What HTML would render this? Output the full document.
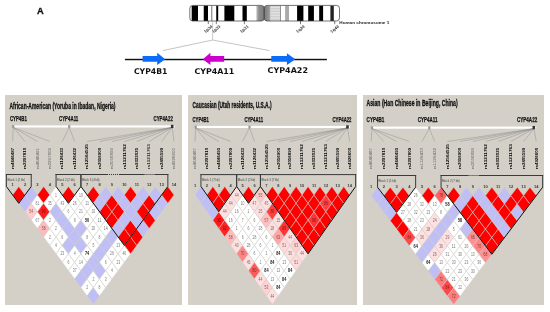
<!DOCTYPE html><html><head><meta charset="utf-8"><style>
html,body{margin:0;padding:0;background:#fff;width:550px;height:312px;overflow:hidden}
svg{display:block}
text{font-family:"Liberation Sans",Arial,sans-serif}
.g{font-family:"DejaVu Sans","Liberation Sans",sans-serif;font-weight:bold}
</style></head><body>
<svg width="550" height="312" viewBox="0 0 550 312">
<text x="36.9" y="14.2" font-size="9.6" font-weight="bold" fill="#111" stroke="#111" stroke-width="0.3" textLength="6.7" lengthAdjust="spacingAndGlyphs">A</text>
<defs><clipPath id="chr"><rect x="189.8" y="5.4" width="74.4" height="15.6" rx="2.8" ry="3.2"/><rect x="264.2" y="5.4" width="75.3" height="15.6" rx="2.8" ry="3.2"/></clipPath>
<linearGradient id="cenp" x1="0" x2="1" y1="0" y2="0"><stop offset="0" stop-color="#bdbdbd"/><stop offset="0.35" stop-color="#8c8c8c"/><stop offset="1" stop-color="#7c7c7c"/></linearGradient><linearGradient id="cenq" x1="0" x2="1" y1="0" y2="0"><stop offset="0" stop-color="#7c7c7c"/><stop offset="0.6" stop-color="#8e8e8e"/><stop offset="1" stop-color="#a8a8a8"/></linearGradient>
<pattern id="hatch" width="4" height="1.6" patternUnits="userSpaceOnUse"><rect width="4" height="1.6" fill="#e4e4e4"/><rect width="4" height="0.6" fill="#c4c4c4"/></pattern></defs>
<g clip-path="url(#chr)"><rect x="189" y="5.4" width="152" height="15.6" fill="#fff"/>
<rect x="270.4" y="5.4" width="10" height="15.6" fill="url(#hatch)"/>
<rect x="191.70" y="5.4" width="6.30" height="15.6" fill="#000"/>
<rect x="203.75" y="5.4" width="4.25" height="15.6" fill="#000"/>
<rect x="211.00" y="5.4" width="1.40" height="15.6" fill="#999"/>
<rect x="216.25" y="5.4" width="1.95" height="15.6" fill="#000"/>
<rect x="224.40" y="5.4" width="9.90" height="15.6" fill="#000"/>
<rect x="242.50" y="5.4" width="4.30" height="15.6" fill="#000"/>
<rect x="256.40" y="5.4" width="7.80" height="15.6" fill="url(#cenp)"/>
<rect x="264.00" y="5.4" width="6.40" height="15.6" fill="url(#cenq)"/>
<rect x="285.10" y="5.4" width="3.90" height="15.6" fill="#aaa"/>
<rect x="297.10" y="5.4" width="6.30" height="15.6" fill="#000"/>
<rect x="308.20" y="5.4" width="5.70" height="15.6" fill="#000"/>
<rect x="319.20" y="5.4" width="3.90" height="15.6" fill="#000"/>
<rect x="330.40" y="5.4" width="3.40" height="15.6" fill="#222"/>
<rect x="280.2" y="5.4" width="0.6" height="15.6" fill="#555"/>
</g>
<rect x="189.8" y="5.4" width="74.4" height="15.6" rx="2.8" ry="3.2" fill="none" stroke="#444" stroke-width="0.75"/><rect x="264.2" y="5.4" width="75.3" height="15.6" rx="2.8" ry="3.2" fill="none" stroke="#444" stroke-width="0.75"/>
<line x1="208.3" y1="21.0" x2="208.3" y2="24.2" stroke="#222" stroke-width="0.6"/>
<text transform="translate(212.9,27.0) rotate(-40)" font-size="4.3" font-weight="bold" fill="#333" text-anchor="end">1p34</text>
<line x1="216.3" y1="21.0" x2="216.3" y2="24.2" stroke="#222" stroke-width="0.6"/>
<text transform="translate(220.9,27.0) rotate(-40)" font-size="4.3" font-weight="bold" fill="#333" text-anchor="end">1p33</text>
<line x1="244.4" y1="21.0" x2="244.4" y2="24.2" stroke="#222" stroke-width="0.6"/>
<text transform="translate(249.0,27.0) rotate(-40)" font-size="4.3" font-weight="bold" fill="#333" text-anchor="end">1p31</text>
<line x1="300.5" y1="21.0" x2="300.5" y2="24.2" stroke="#222" stroke-width="0.6"/>
<text transform="translate(305.1,27.0) rotate(-40)" font-size="4.3" font-weight="bold" fill="#333" text-anchor="end">1q24</text>
<line x1="334.7" y1="21.0" x2="334.7" y2="24.2" stroke="#222" stroke-width="0.6"/>
<text transform="translate(339.3,27.0) rotate(-40)" font-size="4.3" font-weight="bold" fill="#333" text-anchor="end">1q44</text>
<text x="339.3" y="23.8" font-size="4.3" font-weight="bold" fill="#222" textLength="50" lengthAdjust="spacingAndGlyphs">Human chromosome 1</text>
<polyline points="163,50.6 212.6,40 269.5,50.6" fill="none" stroke="#aaa" stroke-width="0.7"/>
<line x1="212.6" y1="21" x2="212.6" y2="40" stroke="#aaa" stroke-width="0.6"/>
<rect x="124.9" y="58.8" width="202" height="1.45" fill="#111"/>
<polygon points="142.6,56 157.2,56 157.2,52.8 165.2,59.2 157.2,65 157.2,61.8 142.6,61.8" fill="#0a6cf7"/>
<polygon points="224.2,56 210.4,56 210.4,52.8 202.8,59.2 210.4,65 210.4,61.8 224.2,61.8" fill="#cc00cc"/>
<polygon points="271.3,56 286.9,56 286.9,53.2 295.3,59.2 286.9,65 286.9,61.8 271.3,61.8" fill="#0a6cf7"/>
<text class="g" x="133.9" y="73.8" font-size="7.9" fill="#111" textLength="33.5" lengthAdjust="spacingAndGlyphs">CYP4B1</text>
<text class="g" x="194.4" y="73.8" font-size="7.9" fill="#111" textLength="40" lengthAdjust="spacingAndGlyphs">CYP4A11</text>
<text class="g" x="267.6" y="72.9" font-size="7.9" fill="#111" textLength="40.4" lengthAdjust="spacingAndGlyphs">CYP4A22</text>
<rect x="5" y="95" width="177" height="210" fill="#d4d0c8"/>
<rect x="5" y="95" width="3" height="210" fill="#d5d1c5"/>
<rect x="177.0" y="95" width="5.0" height="210" fill="#d3cfc4"/>
<text x="9.5" y="108.5" font-size="8.4" font-weight="bold" fill="#111" stroke="#111" stroke-width="0.3" textLength="106.0" lengthAdjust="spacingAndGlyphs">African-American (Yoruba in Ibadan, Nigeria)</text>
<text x="9.9" y="121.20" font-size="7.3" font-weight="bold" fill="#111" stroke="#111" stroke-width="0.25" textLength="16.9" lengthAdjust="spacingAndGlyphs">CYP4B1</text>
<text x="59.0" y="121.20" font-size="7.3" font-weight="bold" fill="#111" stroke="#111" stroke-width="0.25" textLength="19.3" lengthAdjust="spacingAndGlyphs">CYP4A11</text>
<text x="153.5" y="121.20" font-size="7.3" font-weight="bold" fill="#111" stroke="#111" stroke-width="0.25" textLength="19.3" lengthAdjust="spacingAndGlyphs">CYP4A22</text>
<rect x="13.2" y="125.40" width="161.5" height="2.1" fill="#fff"/>
<line x1="13.2" y1="127.40" x2="12.60" y2="141.5" stroke="#8a8a8a" stroke-width="0.45"/>
<line x1="13.2" y1="127.40" x2="25.02" y2="141.5" stroke="#8a8a8a" stroke-width="0.45"/>
<line x1="13.2" y1="127.40" x2="37.44" y2="141.5" stroke="#8a8a8a" stroke-width="0.45"/>
<line x1="13.2" y1="127.40" x2="49.86" y2="141.5" stroke="#8a8a8a" stroke-width="0.45"/>
<line x1="69.2" y1="127.40" x2="62.28" y2="141.5" stroke="#8a8a8a" stroke-width="0.45"/>
<line x1="69.2" y1="127.40" x2="74.70" y2="141.5" stroke="#8a8a8a" stroke-width="0.45"/>
<line x1="172.2" y1="127.40" x2="87.12" y2="141.5" stroke="#8a8a8a" stroke-width="0.45"/>
<line x1="172.2" y1="127.40" x2="99.54" y2="141.5" stroke="#8a8a8a" stroke-width="0.45"/>
<line x1="172.2" y1="127.40" x2="111.96" y2="141.5" stroke="#8a8a8a" stroke-width="0.45"/>
<line x1="172.2" y1="127.40" x2="124.38" y2="141.5" stroke="#8a8a8a" stroke-width="0.45"/>
<line x1="172.2" y1="127.40" x2="136.80" y2="141.5" stroke="#8a8a8a" stroke-width="0.45"/>
<line x1="172.2" y1="127.40" x2="149.22" y2="141.5" stroke="#8a8a8a" stroke-width="0.45"/>
<line x1="172.2" y1="127.40" x2="161.64" y2="141.5" stroke="#8a8a8a" stroke-width="0.45"/>
<line x1="172.2" y1="127.40" x2="174.06" y2="141.5" stroke="#8a8a8a" stroke-width="0.45"/>
<rect x="12.1" y="125.10" width="2.2" height="2.8" fill="#999"/>
<rect x="68.1" y="125.10" width="2.2" height="2.8" fill="#999"/>
<rect x="170.9" y="124.80" width="2.6" height="3.2" fill="#333"/>
<text transform="translate(13.80,169.2) rotate(-90)" font-size="3.0" font-weight="bold" fill="#000" textLength="21.3" lengthAdjust="spacingAndGlyphs">rs4646487</text>
<text transform="translate(26.22,169.2) rotate(-90)" font-size="3.0" font-weight="bold" fill="#000" textLength="21.3" lengthAdjust="spacingAndGlyphs">rs2297810</text>
<text transform="translate(38.64,169.2) rotate(-90)" font-size="3.0" font-weight="normal" fill="#666" textLength="21.3" lengthAdjust="spacingAndGlyphs">rs4646491</text>
<text transform="translate(51.06,169.2) rotate(-90)" font-size="3.0" font-weight="normal" fill="#666" textLength="21.3" lengthAdjust="spacingAndGlyphs">rs2297809</text>
<text transform="translate(63.48,169.2) rotate(-90)" font-size="3.0" font-weight="bold" fill="#000" textLength="21.3" lengthAdjust="spacingAndGlyphs">rs1126433</text>
<text transform="translate(75.90,169.2) rotate(-90)" font-size="3.0" font-weight="bold" fill="#000" textLength="21.3" lengthAdjust="spacingAndGlyphs">rs1126432</text>
<text transform="translate(88.32,169.2) rotate(-90)" font-size="3.0" font-weight="bold" fill="#000" textLength="25.0" lengthAdjust="spacingAndGlyphs">rs12564525</text>
<text transform="translate(100.74,169.2) rotate(-90)" font-size="3.0" font-weight="bold" fill="#000" textLength="21.3" lengthAdjust="spacingAndGlyphs">rs2056900</text>
<text transform="translate(113.16,169.2) rotate(-90)" font-size="3.0" font-weight="normal" fill="#666" textLength="21.3" lengthAdjust="spacingAndGlyphs">rs2056899</text>
<text transform="translate(125.58,169.2) rotate(-90)" font-size="3.0" font-weight="bold" fill="#000" textLength="25.0" lengthAdjust="spacingAndGlyphs">rs11211762</text>
<text transform="translate(138.00,169.2) rotate(-90)" font-size="3.0" font-weight="bold" fill="#000" textLength="21.3" lengthAdjust="spacingAndGlyphs">rs9333025</text>
<text transform="translate(150.42,169.2) rotate(-90)" font-size="3.0" font-weight="bold" fill="#333" textLength="25.0" lengthAdjust="spacingAndGlyphs">rs11211763</text>
<text transform="translate(162.84,169.2) rotate(-90)" font-size="3.0" font-weight="bold" fill="#000" textLength="21.3" lengthAdjust="spacingAndGlyphs">rs2405599</text>
<text transform="translate(175.26,169.2) rotate(-90)" font-size="3.0" font-weight="normal" fill="#666" textLength="21.3" lengthAdjust="spacingAndGlyphs">rs4926600</text>
<text x="12.60" y="186.40" font-size="4.0" font-weight="bold" fill="#383838" text-anchor="middle">1</text>
<text x="25.02" y="186.40" font-size="4.0" font-weight="bold" fill="#383838" text-anchor="middle">2</text>
<text x="37.44" y="186.40" font-size="4.0" font-weight="bold" fill="#383838" text-anchor="middle">3</text>
<text x="49.86" y="186.40" font-size="4.0" font-weight="bold" fill="#383838" text-anchor="middle">4</text>
<text x="62.28" y="186.40" font-size="4.0" font-weight="bold" fill="#383838" text-anchor="middle">5</text>
<text x="74.70" y="186.40" font-size="4.0" font-weight="bold" fill="#383838" text-anchor="middle">6</text>
<text x="87.12" y="186.40" font-size="4.0" font-weight="bold" fill="#383838" text-anchor="middle">7</text>
<text x="99.54" y="186.40" font-size="4.0" font-weight="bold" fill="#383838" text-anchor="middle">8</text>
<text x="111.96" y="186.40" font-size="4.0" font-weight="bold" fill="#383838" text-anchor="middle">9</text>
<text x="124.38" y="186.40" font-size="4.0" font-weight="bold" fill="#383838" text-anchor="middle">10</text>
<text x="136.80" y="186.40" font-size="4.0" font-weight="bold" fill="#383838" text-anchor="middle">11</text>
<text x="149.22" y="186.40" font-size="4.0" font-weight="bold" fill="#383838" text-anchor="middle">12</text>
<text x="161.64" y="186.40" font-size="4.0" font-weight="bold" fill="#383838" text-anchor="middle">13</text>
<text x="174.06" y="186.40" font-size="4.0" font-weight="bold" fill="#383838" text-anchor="middle">14</text>
<polygon points="18.81,186.48 25.02,194.90 18.81,203.32 12.60,194.90" fill="#ff0000" stroke="#cfcfcb" stroke-width="0.55"/>
<polygon points="25.02,194.90 31.23,203.32 25.02,211.74 18.81,203.32" fill="#bfbff6" stroke="#cfcfcb" stroke-width="0.55"/>
<polygon points="31.23,203.32 37.44,211.74 31.23,220.16 25.02,211.74" fill="#ffcdcd" stroke="#cfcfcb" stroke-width="0.55"/>
<text x="31.23" y="213.39" font-size="4.5" fill="#7a7a7a" text-anchor="middle" textLength="3.80" lengthAdjust="spacingAndGlyphs" style="mix-blend-mode:multiply">54</text>
<polygon points="37.44,211.74 43.65,220.16 37.44,228.58 31.23,220.16" fill="#ffffff" stroke="#cfcfcb" stroke-width="0.55"/>
<text x="37.44" y="221.81" font-size="4.5" fill="#7a7a7a" text-anchor="middle" textLength="3.80" lengthAdjust="spacingAndGlyphs" style="mix-blend-mode:multiply">67</text>
<polygon points="43.65,220.16 49.86,228.58 43.65,237.00 37.44,228.58" fill="#ffbbbb" stroke="#cfcfcb" stroke-width="0.55"/>
<text x="43.65" y="230.23" font-size="4.5" fill="#7a7a7a" text-anchor="middle" textLength="3.80" lengthAdjust="spacingAndGlyphs" style="mix-blend-mode:multiply">58</text>
<polygon points="49.86,228.58 56.07,237.00 49.86,245.42 43.65,237.00" fill="#ffffff" stroke="#cfcfcb" stroke-width="0.55"/>
<text x="49.86" y="238.65" font-size="4.5" fill="#7a7a7a" text-anchor="middle" textLength="1.90" lengthAdjust="spacingAndGlyphs" style="mix-blend-mode:multiply">2</text>
<polygon points="56.07,237.00 62.28,245.42 56.07,253.84 49.86,245.42" fill="#ffffff" stroke="#cfcfcb" stroke-width="0.55"/>
<text x="56.07" y="247.07" font-size="4.5" fill="#7a7a7a" text-anchor="middle" textLength="1.90" lengthAdjust="spacingAndGlyphs" style="mix-blend-mode:multiply">4</text>
<polygon points="62.28,245.42 68.49,253.84 62.28,262.26 56.07,253.84" fill="#ffffff" stroke="#cfcfcb" stroke-width="0.55"/>
<text x="62.28" y="255.49" font-size="4.5" fill="#7a7a7a" text-anchor="middle" textLength="3.80" lengthAdjust="spacingAndGlyphs" style="mix-blend-mode:multiply">23</text>
<polygon points="68.49,253.84 74.70,262.26 68.49,270.68 62.28,262.26" fill="#ffffff" stroke="#cfcfcb" stroke-width="0.55"/>
<text x="68.49" y="263.91" font-size="4.5" fill="#7a7a7a" text-anchor="middle" textLength="1.90" lengthAdjust="spacingAndGlyphs" style="mix-blend-mode:multiply">6</text>
<polygon points="74.70,262.26 80.91,270.68 74.70,279.10 68.49,270.68" fill="#ffffff" stroke="#cfcfcb" stroke-width="0.55"/>
<text x="74.70" y="272.33" font-size="4.5" fill="#7a7a7a" text-anchor="middle" textLength="3.80" lengthAdjust="spacingAndGlyphs" style="mix-blend-mode:multiply">37</text>
<polygon points="80.91,270.68 87.12,279.10 80.91,287.52 74.70,279.10" fill="#bfbff6" stroke="#cfcfcb" stroke-width="0.55"/>
<polygon points="87.12,279.10 93.33,287.52 87.12,295.94 80.91,287.52" fill="#ffffff" stroke="#cfcfcb" stroke-width="0.55"/>
<text x="87.12" y="289.17" font-size="4.5" fill="#7a7a7a" text-anchor="middle" textLength="1.90" lengthAdjust="spacingAndGlyphs" style="mix-blend-mode:multiply">2</text>
<polygon points="93.33,287.52 99.54,295.94 93.33,304.36 87.12,295.94" fill="#bfbff6" stroke="#cfcfcb" stroke-width="0.55"/>
<polygon points="31.23,186.48 37.44,194.90 31.23,203.32 25.02,194.90" fill="#bfbff6" stroke="#cfcfcb" stroke-width="0.55"/>
<polygon points="37.44,194.90 43.65,203.32 37.44,211.74 31.23,203.32" fill="#ffffff" stroke="#cfcfcb" stroke-width="0.55"/>
<text x="37.44" y="204.97" font-size="4.5" fill="#7a7a7a" text-anchor="middle" textLength="3.80" lengthAdjust="spacingAndGlyphs" style="mix-blend-mode:multiply">81</text>
<polygon points="43.65,203.32 49.86,211.74 43.65,220.16 37.44,211.74" fill="#ff1c1c" stroke="#cfcfcb" stroke-width="0.55"/>
<text x="43.65" y="213.39" font-size="4.5" fill="#7a7a7a" text-anchor="middle" textLength="3.80" lengthAdjust="spacingAndGlyphs" style="mix-blend-mode:multiply">90</text>
<polygon points="49.86,211.74 56.07,220.16 49.86,228.58 43.65,220.16" fill="#ffffff" stroke="#cfcfcb" stroke-width="0.55"/>
<text x="49.86" y="221.81" font-size="4.5" fill="#7a7a7a" text-anchor="middle" textLength="1.90" lengthAdjust="spacingAndGlyphs" style="mix-blend-mode:multiply">2</text>
<polygon points="56.07,220.16 62.28,228.58 56.07,237.00 49.86,228.58" fill="#ffffff" stroke="#cfcfcb" stroke-width="0.55"/>
<text x="56.07" y="230.23" font-size="4.5" fill="#7a7a7a" text-anchor="middle" textLength="1.90" lengthAdjust="spacingAndGlyphs" style="mix-blend-mode:multiply">2</text>
<polygon points="62.28,228.58 68.49,237.00 62.28,245.42 56.07,237.00" fill="#ffffff" stroke="#cfcfcb" stroke-width="0.55"/>
<text x="62.28" y="238.65" font-size="4.5" fill="#7a7a7a" text-anchor="middle" textLength="1.90" lengthAdjust="spacingAndGlyphs" style="mix-blend-mode:multiply">6</text>
<polygon points="68.49,237.00 74.70,245.42 68.49,253.84 62.28,245.42" fill="#bfbff6" stroke="#cfcfcb" stroke-width="0.55"/>
<polygon points="74.70,245.42 80.91,253.84 74.70,262.26 68.49,253.84" fill="#ffffff" stroke="#cfcfcb" stroke-width="0.55"/>
<text x="74.70" y="255.49" font-size="4.5" fill="#7a7a7a" text-anchor="middle" textLength="1.90" lengthAdjust="spacingAndGlyphs" style="mix-blend-mode:multiply">4</text>
<polygon points="80.91,253.84 87.12,262.26 80.91,270.68 74.70,262.26" fill="#ffffff" stroke="#cfcfcb" stroke-width="0.55"/>
<text x="80.91" y="263.91" font-size="4.5" fill="#7a7a7a" text-anchor="middle" textLength="3.80" lengthAdjust="spacingAndGlyphs" style="mix-blend-mode:multiply">14</text>
<polygon points="87.12,262.26 93.33,270.68 87.12,279.10 80.91,270.68" fill="#bfbff6" stroke="#cfcfcb" stroke-width="0.55"/>
<polygon points="93.33,270.68 99.54,279.10 93.33,287.52 87.12,279.10" fill="#ffffff" stroke="#cfcfcb" stroke-width="0.55"/>
<text x="93.33" y="280.75" font-size="4.5" fill="#7a7a7a" text-anchor="middle" textLength="1.90" lengthAdjust="spacingAndGlyphs" style="mix-blend-mode:multiply">2</text>
<polygon points="99.54,279.10 105.75,287.52 99.54,295.94 93.33,287.52" fill="#ffffff" stroke="#cfcfcb" stroke-width="0.55"/>
<text x="99.54" y="289.17" font-size="4.5" fill="#7a7a7a" text-anchor="middle" textLength="1.90" lengthAdjust="spacingAndGlyphs" style="mix-blend-mode:multiply">8</text>
<polygon points="43.65,186.48 49.86,194.90 43.65,203.32 37.44,194.90" fill="#ff0000" stroke="#cfcfcb" stroke-width="0.55"/>
<polygon points="49.86,194.90 56.07,203.32 49.86,211.74 43.65,203.32" fill="#ffffff" stroke="#cfcfcb" stroke-width="0.55"/>
<text x="49.86" y="204.97" font-size="4.5" fill="#7a7a7a" text-anchor="middle" textLength="3.80" lengthAdjust="spacingAndGlyphs" style="mix-blend-mode:multiply">35</text>
<polygon points="56.07,203.32 62.28,211.74 56.07,220.16 49.86,211.74" fill="#bfbff6" stroke="#cfcfcb" stroke-width="0.55"/>
<polygon points="62.28,211.74 68.49,220.16 62.28,228.58 56.07,220.16" fill="#bfbff6" stroke="#cfcfcb" stroke-width="0.55"/>
<polygon points="68.49,220.16 74.70,228.58 68.49,237.00 62.28,228.58" fill="#bfbff6" stroke="#cfcfcb" stroke-width="0.55"/>
<polygon points="74.70,228.58 80.91,237.00 74.70,245.42 68.49,237.00" fill="#bfbff6" stroke="#cfcfcb" stroke-width="0.55"/>
<polygon points="80.91,237.00 87.12,245.42 80.91,253.84 74.70,245.42" fill="#bfbff6" stroke="#cfcfcb" stroke-width="0.55"/>
<polygon points="87.12,245.42 93.33,253.84 87.12,262.26 80.91,253.84" fill="#ffffff" stroke="#cfcfcb" stroke-width="0.55"/>
<text x="87.12" y="255.49" font-size="4.6" font-weight="bold" fill="#222" text-anchor="middle" textLength="4.30" lengthAdjust="spacingAndGlyphs">74</text>
<polygon points="93.33,253.84 99.54,262.26 93.33,270.68 87.12,262.26" fill="#bfbff6" stroke="#cfcfcb" stroke-width="0.55"/>
<polygon points="99.54,262.26 105.75,270.68 99.54,279.10 93.33,270.68" fill="#bfbff6" stroke="#cfcfcb" stroke-width="0.55"/>
<polygon points="105.75,270.68 111.96,279.10 105.75,287.52 99.54,279.10" fill="#ffffff" stroke="#cfcfcb" stroke-width="0.55"/>
<text x="105.75" y="280.75" font-size="4.5" fill="#7a7a7a" text-anchor="middle" textLength="1.90" lengthAdjust="spacingAndGlyphs" style="mix-blend-mode:multiply">3</text>
<polygon points="56.07,186.48 62.28,194.90 56.07,203.32 49.86,194.90" fill="#ffffff" stroke="#cfcfcb" stroke-width="0.55"/>
<text x="56.07" y="196.55" font-size="4.5" fill="#7a7a7a" text-anchor="middle" textLength="1.90" lengthAdjust="spacingAndGlyphs" style="mix-blend-mode:multiply">1</text>
<polygon points="62.28,194.90 68.49,203.32 62.28,211.74 56.07,203.32" fill="#ffffff" stroke="#cfcfcb" stroke-width="0.55"/>
<text x="62.28" y="204.97" font-size="4.5" fill="#7a7a7a" text-anchor="middle" textLength="3.80" lengthAdjust="spacingAndGlyphs" style="mix-blend-mode:multiply">43</text>
<polygon points="68.49,203.32 74.70,211.74 68.49,220.16 62.28,211.74" fill="#ffffff" stroke="#cfcfcb" stroke-width="0.55"/>
<text x="68.49" y="213.39" font-size="4.5" fill="#7a7a7a" text-anchor="middle" textLength="1.90" lengthAdjust="spacingAndGlyphs" style="mix-blend-mode:multiply">6</text>
<polygon points="74.70,211.74 80.91,220.16 74.70,228.58 68.49,220.16" fill="#ffffff" stroke="#cfcfcb" stroke-width="0.55"/>
<text x="74.70" y="221.81" font-size="4.5" fill="#7a7a7a" text-anchor="middle" textLength="1.90" lengthAdjust="spacingAndGlyphs" style="mix-blend-mode:multiply">8</text>
<polygon points="80.91,220.16 87.12,228.58 80.91,237.00 74.70,228.58" fill="#bfbff6" stroke="#cfcfcb" stroke-width="0.55"/>
<polygon points="87.12,228.58 93.33,237.00 87.12,245.42 80.91,237.00" fill="#ffffff" stroke="#cfcfcb" stroke-width="0.55"/>
<text x="87.12" y="238.65" font-size="4.5" fill="#7a7a7a" text-anchor="middle" textLength="1.90" lengthAdjust="spacingAndGlyphs" style="mix-blend-mode:multiply">8</text>
<polygon points="93.33,237.00 99.54,245.42 93.33,253.84 87.12,245.42" fill="#ffffff" stroke="#cfcfcb" stroke-width="0.55"/>
<text x="93.33" y="247.07" font-size="4.5" fill="#7a7a7a" text-anchor="middle" textLength="1.90" lengthAdjust="spacingAndGlyphs" style="mix-blend-mode:multiply">5</text>
<polygon points="99.54,245.42 105.75,253.84 99.54,262.26 93.33,253.84" fill="#bfbff6" stroke="#cfcfcb" stroke-width="0.55"/>
<polygon points="105.75,253.84 111.96,262.26 105.75,270.68 99.54,262.26" fill="#ffffff" stroke="#cfcfcb" stroke-width="0.55"/>
<text x="105.75" y="263.91" font-size="4.5" fill="#7a7a7a" text-anchor="middle" textLength="1.90" lengthAdjust="spacingAndGlyphs" style="mix-blend-mode:multiply">6</text>
<polygon points="111.96,262.26 118.17,270.68 111.96,279.10 105.75,270.68" fill="#ffffff" stroke="#cfcfcb" stroke-width="0.55"/>
<text x="111.96" y="272.33" font-size="4.5" fill="#7a7a7a" text-anchor="middle" textLength="1.90" lengthAdjust="spacingAndGlyphs" style="mix-blend-mode:multiply">4</text>
<polygon points="68.49,186.48 74.70,194.90 68.49,203.32 62.28,194.90" fill="#ff0000" stroke="#cfcfcb" stroke-width="0.55"/>
<polygon points="74.70,194.90 80.91,203.32 74.70,211.74 68.49,203.32" fill="#ffffff" stroke="#cfcfcb" stroke-width="0.55"/>
<text x="74.70" y="204.97" font-size="4.5" fill="#7a7a7a" text-anchor="middle" textLength="3.80" lengthAdjust="spacingAndGlyphs" style="mix-blend-mode:multiply">26</text>
<polygon points="80.91,203.32 87.12,211.74 80.91,220.16 74.70,211.74" fill="#ffffff" stroke="#cfcfcb" stroke-width="0.55"/>
<text x="80.91" y="213.39" font-size="4.5" fill="#7a7a7a" text-anchor="middle" textLength="3.80" lengthAdjust="spacingAndGlyphs" style="mix-blend-mode:multiply">21</text>
<polygon points="87.12,211.74 93.33,220.16 87.12,228.58 80.91,220.16" fill="#ffffff" stroke="#cfcfcb" stroke-width="0.55"/>
<text x="87.12" y="221.81" font-size="4.6" font-weight="bold" fill="#222" text-anchor="middle" textLength="4.30" lengthAdjust="spacingAndGlyphs">50</text>
<polygon points="93.33,220.16 99.54,228.58 93.33,237.00 87.12,228.58" fill="#ffffff" stroke="#cfcfcb" stroke-width="0.55"/>
<text x="93.33" y="230.23" font-size="4.5" fill="#7a7a7a" text-anchor="middle" textLength="3.80" lengthAdjust="spacingAndGlyphs" style="mix-blend-mode:multiply">20</text>
<polygon points="99.54,228.58 105.75,237.00 99.54,245.42 93.33,237.00" fill="#ffffff" stroke="#cfcfcb" stroke-width="0.55"/>
<text x="99.54" y="238.65" font-size="4.5" fill="#7a7a7a" text-anchor="middle" textLength="1.90" lengthAdjust="spacingAndGlyphs" style="mix-blend-mode:multiply">8</text>
<polygon points="105.75,237.00 111.96,245.42 105.75,253.84 99.54,245.42" fill="#bfbff6" stroke="#cfcfcb" stroke-width="0.55"/>
<polygon points="111.96,245.42 118.17,253.84 111.96,262.26 105.75,253.84" fill="#ffffff" stroke="#cfcfcb" stroke-width="0.55"/>
<text x="111.96" y="255.49" font-size="4.5" fill="#7a7a7a" text-anchor="middle" textLength="3.80" lengthAdjust="spacingAndGlyphs" style="mix-blend-mode:multiply">26</text>
<polygon points="118.17,253.84 124.38,262.26 118.17,270.68 111.96,262.26" fill="#ffffff" stroke="#cfcfcb" stroke-width="0.55"/>
<text x="118.17" y="263.91" font-size="4.5" fill="#7a7a7a" text-anchor="middle" textLength="3.80" lengthAdjust="spacingAndGlyphs" style="mix-blend-mode:multiply">13</text>
<polygon points="80.91,186.48 87.12,194.90 80.91,203.32 74.70,194.90" fill="#ffffff" stroke="#cfcfcb" stroke-width="0.55"/>
<text x="80.91" y="196.55" font-size="4.5" fill="#7a7a7a" text-anchor="middle" textLength="3.80" lengthAdjust="spacingAndGlyphs" style="mix-blend-mode:multiply">10</text>
<polygon points="87.12,194.90 93.33,203.32 87.12,211.74 80.91,203.32" fill="#ffffff" stroke="#cfcfcb" stroke-width="0.55"/>
<text x="87.12" y="204.97" font-size="4.5" fill="#7a7a7a" text-anchor="middle" textLength="3.80" lengthAdjust="spacingAndGlyphs" style="mix-blend-mode:multiply">11</text>
<polygon points="93.33,203.32 99.54,211.74 93.33,220.16 87.12,211.74" fill="#ffffff" stroke="#cfcfcb" stroke-width="0.55"/>
<text x="93.33" y="213.39" font-size="4.5" fill="#7a7a7a" text-anchor="middle" textLength="3.80" lengthAdjust="spacingAndGlyphs" style="mix-blend-mode:multiply">10</text>
<polygon points="99.54,211.74 105.75,220.16 99.54,228.58 93.33,220.16" fill="#ffffff" stroke="#cfcfcb" stroke-width="0.55"/>
<text x="99.54" y="221.81" font-size="4.5" fill="#7a7a7a" text-anchor="middle" textLength="3.80" lengthAdjust="spacingAndGlyphs" style="mix-blend-mode:multiply">11</text>
<polygon points="105.75,220.16 111.96,228.58 105.75,237.00 99.54,228.58" fill="#ffffff" stroke="#cfcfcb" stroke-width="0.55"/>
<text x="105.75" y="230.23" font-size="4.5" fill="#7a7a7a" text-anchor="middle" textLength="3.80" lengthAdjust="spacingAndGlyphs" style="mix-blend-mode:multiply">14</text>
<polygon points="111.96,228.58 118.17,237.00 111.96,245.42 105.75,237.00" fill="#bfbff6" stroke="#cfcfcb" stroke-width="0.55"/>
<polygon points="118.17,237.00 124.38,245.42 118.17,253.84 111.96,245.42" fill="#ffffff" stroke="#cfcfcb" stroke-width="0.55"/>
<text x="118.17" y="247.07" font-size="4.5" fill="#7a7a7a" text-anchor="middle" textLength="3.80" lengthAdjust="spacingAndGlyphs" style="mix-blend-mode:multiply">13</text>
<polygon points="124.38,245.42 130.59,253.84 124.38,262.26 118.17,253.84" fill="#ffffff" stroke="#cfcfcb" stroke-width="0.55"/>
<text x="124.38" y="255.49" font-size="4.5" fill="#7a7a7a" text-anchor="middle" textLength="3.80" lengthAdjust="spacingAndGlyphs" style="mix-blend-mode:multiply">46</text>
<polygon points="93.33,186.48 99.54,194.90 93.33,203.32 87.12,194.90" fill="#ff0000" stroke="#cfcfcb" stroke-width="0.55"/>
<polygon points="99.54,194.90 105.75,203.32 99.54,211.74 93.33,203.32" fill="#bfbff6" stroke="#cfcfcb" stroke-width="0.55"/>
<polygon points="105.75,203.32 111.96,211.74 105.75,220.16 99.54,211.74" fill="#ff0000" stroke="#cfcfcb" stroke-width="0.55"/>
<polygon points="111.96,211.74 118.17,220.16 111.96,228.58 105.75,220.16" fill="#ff0000" stroke="#cfcfcb" stroke-width="0.55"/>
<polygon points="118.17,220.16 124.38,228.58 118.17,237.00 111.96,228.58" fill="#bfbff6" stroke="#cfcfcb" stroke-width="0.55"/>
<polygon points="124.38,228.58 130.59,237.00 124.38,245.42 118.17,237.00" fill="#ff0000" stroke="#cfcfcb" stroke-width="0.55"/>
<polygon points="130.59,237.00 136.80,245.42 130.59,253.84 124.38,245.42" fill="#ff0000" stroke="#cfcfcb" stroke-width="0.55"/>
<polygon points="105.75,186.48 111.96,194.90 105.75,203.32 99.54,194.90" fill="#bfbff6" stroke="#cfcfcb" stroke-width="0.55"/>
<polygon points="111.96,194.90 118.17,203.32 111.96,211.74 105.75,203.32" fill="#ff0000" stroke="#cfcfcb" stroke-width="0.55"/>
<polygon points="118.17,203.32 124.38,211.74 118.17,220.16 111.96,211.74" fill="#ff0000" stroke="#cfcfcb" stroke-width="0.55"/>
<polygon points="124.38,211.74 130.59,220.16 124.38,228.58 118.17,220.16" fill="#bfbff6" stroke="#cfcfcb" stroke-width="0.55"/>
<polygon points="130.59,220.16 136.80,228.58 130.59,237.00 124.38,228.58" fill="#ff0000" stroke="#cfcfcb" stroke-width="0.55"/>
<polygon points="136.80,228.58 143.01,237.00 136.80,245.42 130.59,237.00" fill="#ff0000" stroke="#cfcfcb" stroke-width="0.55"/>
<polygon points="118.17,186.48 124.38,194.90 118.17,203.32 111.96,194.90" fill="#bfbff6" stroke="#cfcfcb" stroke-width="0.55"/>
<polygon points="124.38,194.90 130.59,203.32 124.38,211.74 118.17,203.32" fill="#bfbff6" stroke="#cfcfcb" stroke-width="0.55"/>
<polygon points="130.59,203.32 136.80,211.74 130.59,220.16 124.38,211.74" fill="#bfbff6" stroke="#cfcfcb" stroke-width="0.55"/>
<polygon points="136.80,211.74 143.01,220.16 136.80,228.58 130.59,220.16" fill="#bfbff6" stroke="#cfcfcb" stroke-width="0.55"/>
<polygon points="143.01,220.16 149.22,228.58 143.01,237.00 136.80,228.58" fill="#bfbff6" stroke="#cfcfcb" stroke-width="0.55"/>
<polygon points="130.59,186.48 136.80,194.90 130.59,203.32 124.38,194.90" fill="#ff0000" stroke="#cfcfcb" stroke-width="0.55"/>
<polygon points="136.80,194.90 143.01,203.32 136.80,211.74 130.59,203.32" fill="#bfbff6" stroke="#cfcfcb" stroke-width="0.55"/>
<polygon points="143.01,203.32 149.22,211.74 143.01,220.16 136.80,211.74" fill="#ff0000" stroke="#cfcfcb" stroke-width="0.55"/>
<polygon points="149.22,211.74 155.43,220.16 149.22,228.58 143.01,220.16" fill="#ff0000" stroke="#cfcfcb" stroke-width="0.55"/>
<polygon points="143.01,186.48 149.22,194.90 143.01,203.32 136.80,194.90" fill="#bfbff6" stroke="#cfcfcb" stroke-width="0.55"/>
<polygon points="149.22,194.90 155.43,203.32 149.22,211.74 143.01,203.32" fill="#ff0000" stroke="#cfcfcb" stroke-width="0.55"/>
<polygon points="155.43,203.32 161.64,211.74 155.43,220.16 149.22,211.74" fill="#bfbff6" stroke="#cfcfcb" stroke-width="0.55"/>
<polygon points="155.43,186.48 161.64,194.90 155.43,203.32 149.22,194.90" fill="#bfbff6" stroke="#cfcfcb" stroke-width="0.55"/>
<polygon points="161.64,194.90 167.85,203.32 161.64,211.74 155.43,203.32" fill="#bfbff6" stroke="#cfcfcb" stroke-width="0.55"/>
<polygon points="167.85,186.48 174.06,194.90 167.85,203.32 161.64,194.90" fill="#ff0000" stroke="#cfcfcb" stroke-width="0.55"/>
<polyline points="6.39,186.48 6.39,174.00" fill="none" stroke="#3a3a3a" stroke-width="1.0"/>
<polyline points="31.23,186.48 31.23,174.00" fill="none" stroke="#3a3a3a" stroke-width="1.0"/>
<line x1="5.89" y1="174.50" x2="31.73" y2="174.50" stroke="#3a3a3a" stroke-width="1.0"/>
<polyline points="31.23,186.48 18.81,203.32 6.39,186.48" fill="none" stroke="#111" stroke-width="1.0" stroke-linejoin="miter"/>
<text x="7.39" y="180.50" font-size="2.9" fill="#444">Block 1 (2 kb)</text>
<polyline points="56.07,186.48 56.07,174.00" fill="none" stroke="#3a3a3a" stroke-width="1.0"/>
<polyline points="80.91,186.48 80.91,174.00" fill="none" stroke="#3a3a3a" stroke-width="1.0"/>
<line x1="55.57" y1="174.50" x2="81.41" y2="174.50" stroke="#3a3a3a" stroke-width="1.0"/>
<polyline points="80.91,186.48 68.49,203.32 56.07,186.48" fill="none" stroke="#111" stroke-width="1.0" stroke-linejoin="miter"/>
<text x="57.07" y="180.50" font-size="2.9" fill="#444">Block 2 (2 kb)</text>
<polyline points="80.91,186.48 80.91,174.00" fill="none" stroke="#3a3a3a" stroke-width="1.0"/>
<polyline points="167.85,186.48 167.85,174.00" fill="none" stroke="#3a3a3a" stroke-width="1.0"/>
<line x1="80.41" y1="174.50" x2="107.00" y2="174.50" stroke="#3a3a3a" stroke-width="1.0"/>
<line x1="107.00" y1="174.50" x2="119.00" y2="174.50" stroke="#3a3a3a" stroke-width="1.0" stroke-dasharray="1.1,0.9"/>
<line x1="119.00" y1="174.50" x2="144.40" y2="174.50" stroke="#3a3a3a" stroke-width="1.0"/>
<line x1="144.40" y1="174.50" x2="154.40" y2="174.50" stroke="#3a3a3a" stroke-width="1.0" stroke-dasharray="1.1,0.9"/>
<line x1="154.40" y1="174.50" x2="168.35" y2="174.50" stroke="#3a3a3a" stroke-width="1.0"/>
<polyline points="167.85,186.48 124.38,245.42 80.91,186.48" fill="none" stroke="#111" stroke-width="1.0" stroke-linejoin="miter"/>
<text x="81.91" y="180.50" font-size="2.9" fill="#444">Block 3 (4 kb)</text>
<rect x="188" y="95" width="169" height="210" fill="#d4d0c8"/>
<rect x="188" y="95" width="3" height="210" fill="#d5d1c5"/>
<rect x="352.0" y="95" width="5.0" height="210" fill="#d3cfc4"/>
<text x="192.5" y="108.1" font-size="8.4" font-weight="bold" fill="#111" stroke="#111" stroke-width="0.3" textLength="79.0" lengthAdjust="spacingAndGlyphs">Caucasian (Utah residents, U.S.A.)</text>
<text x="192.6" y="121.80" font-size="7.3" font-weight="bold" fill="#111" stroke="#111" stroke-width="0.25" textLength="16.3" lengthAdjust="spacingAndGlyphs">CYP4B1</text>
<text x="244.4" y="121.80" font-size="7.3" font-weight="bold" fill="#111" stroke="#111" stroke-width="0.25" textLength="18.6" lengthAdjust="spacingAndGlyphs">CYP4A11</text>
<text x="332.5" y="121.80" font-size="7.3" font-weight="bold" fill="#111" stroke="#111" stroke-width="0.25" textLength="19.0" lengthAdjust="spacingAndGlyphs">CYP4A22</text>
<rect x="195.7" y="125.90" width="154.3" height="2.1" fill="#fff"/>
<line x1="195.7" y1="127.90" x2="195.00" y2="141.5" stroke="#8a8a8a" stroke-width="0.45"/>
<line x1="195.7" y1="127.90" x2="206.90" y2="141.5" stroke="#8a8a8a" stroke-width="0.45"/>
<line x1="195.7" y1="127.90" x2="218.80" y2="141.5" stroke="#8a8a8a" stroke-width="0.45"/>
<line x1="195.7" y1="127.90" x2="230.70" y2="141.5" stroke="#8a8a8a" stroke-width="0.45"/>
<line x1="249.5" y1="127.90" x2="242.60" y2="141.5" stroke="#8a8a8a" stroke-width="0.45"/>
<line x1="249.5" y1="127.90" x2="254.50" y2="141.5" stroke="#8a8a8a" stroke-width="0.45"/>
<line x1="347.5" y1="127.90" x2="266.40" y2="141.5" stroke="#8a8a8a" stroke-width="0.45"/>
<line x1="347.5" y1="127.90" x2="278.30" y2="141.5" stroke="#8a8a8a" stroke-width="0.45"/>
<line x1="347.5" y1="127.90" x2="290.20" y2="141.5" stroke="#8a8a8a" stroke-width="0.45"/>
<line x1="347.5" y1="127.90" x2="302.10" y2="141.5" stroke="#8a8a8a" stroke-width="0.45"/>
<line x1="347.5" y1="127.90" x2="314.00" y2="141.5" stroke="#8a8a8a" stroke-width="0.45"/>
<line x1="347.5" y1="127.90" x2="325.90" y2="141.5" stroke="#8a8a8a" stroke-width="0.45"/>
<line x1="347.5" y1="127.90" x2="337.80" y2="141.5" stroke="#8a8a8a" stroke-width="0.45"/>
<line x1="347.5" y1="127.90" x2="349.70" y2="141.5" stroke="#8a8a8a" stroke-width="0.45"/>
<rect x="194.6" y="125.60" width="2.2" height="2.8" fill="#999"/>
<rect x="248.4" y="125.60" width="2.2" height="2.8" fill="#999"/>
<rect x="346.2" y="125.30" width="2.6" height="3.2" fill="#333"/>
<text transform="translate(196.20,169.2) rotate(-90)" font-size="3.0" font-weight="normal" fill="#666" textLength="21.3" lengthAdjust="spacingAndGlyphs">rs4646487</text>
<text transform="translate(208.10,169.2) rotate(-90)" font-size="3.0" font-weight="bold" fill="#000" textLength="21.3" lengthAdjust="spacingAndGlyphs">rs2297810</text>
<text transform="translate(220.00,169.2) rotate(-90)" font-size="3.0" font-weight="bold" fill="#000" textLength="21.3" lengthAdjust="spacingAndGlyphs">rs4646491</text>
<text transform="translate(231.90,169.2) rotate(-90)" font-size="3.0" font-weight="bold" fill="#000" textLength="21.3" lengthAdjust="spacingAndGlyphs">rs2297809</text>
<text transform="translate(243.80,169.2) rotate(-90)" font-size="3.0" font-weight="bold" fill="#000" textLength="21.3" lengthAdjust="spacingAndGlyphs">rs1126433</text>
<text transform="translate(255.70,169.2) rotate(-90)" font-size="3.0" font-weight="bold" fill="#000" textLength="21.3" lengthAdjust="spacingAndGlyphs">rs1126432</text>
<text transform="translate(267.60,169.2) rotate(-90)" font-size="3.0" font-weight="bold" fill="#000" textLength="25.0" lengthAdjust="spacingAndGlyphs">rs12564525</text>
<text transform="translate(279.50,169.2) rotate(-90)" font-size="3.0" font-weight="bold" fill="#000" textLength="21.3" lengthAdjust="spacingAndGlyphs">rs2056900</text>
<text transform="translate(291.40,169.2) rotate(-90)" font-size="3.0" font-weight="bold" fill="#000" textLength="21.3" lengthAdjust="spacingAndGlyphs">rs2056899</text>
<text transform="translate(303.30,169.2) rotate(-90)" font-size="3.0" font-weight="bold" fill="#000" textLength="25.0" lengthAdjust="spacingAndGlyphs">rs11211762</text>
<text transform="translate(315.20,169.2) rotate(-90)" font-size="3.0" font-weight="bold" fill="#000" textLength="21.3" lengthAdjust="spacingAndGlyphs">rs9333025</text>
<text transform="translate(327.10,169.2) rotate(-90)" font-size="3.0" font-weight="bold" fill="#000" textLength="25.0" lengthAdjust="spacingAndGlyphs">rs11211763</text>
<text transform="translate(339.00,169.2) rotate(-90)" font-size="3.0" font-weight="bold" fill="#000" textLength="21.3" lengthAdjust="spacingAndGlyphs">rs2405599</text>
<text transform="translate(350.90,169.2) rotate(-90)" font-size="3.0" font-weight="bold" fill="#000" textLength="21.3" lengthAdjust="spacingAndGlyphs">rs4926600</text>
<text x="195.00" y="186.50" font-size="4.0" font-weight="bold" fill="#383838" text-anchor="middle">1</text>
<text x="206.90" y="186.50" font-size="4.0" font-weight="bold" fill="#383838" text-anchor="middle">2</text>
<text x="218.80" y="186.50" font-size="4.0" font-weight="bold" fill="#383838" text-anchor="middle">3</text>
<text x="230.70" y="186.50" font-size="4.0" font-weight="bold" fill="#383838" text-anchor="middle">4</text>
<text x="242.60" y="186.50" font-size="4.0" font-weight="bold" fill="#383838" text-anchor="middle">5</text>
<text x="254.50" y="186.50" font-size="4.0" font-weight="bold" fill="#383838" text-anchor="middle">6</text>
<text x="266.40" y="186.50" font-size="4.0" font-weight="bold" fill="#383838" text-anchor="middle">7</text>
<text x="278.30" y="186.50" font-size="4.0" font-weight="bold" fill="#383838" text-anchor="middle">8</text>
<text x="290.20" y="186.50" font-size="4.0" font-weight="bold" fill="#383838" text-anchor="middle">9</text>
<text x="302.10" y="186.50" font-size="4.0" font-weight="bold" fill="#383838" text-anchor="middle">10</text>
<text x="314.00" y="186.50" font-size="4.0" font-weight="bold" fill="#383838" text-anchor="middle">11</text>
<text x="325.90" y="186.50" font-size="4.0" font-weight="bold" fill="#383838" text-anchor="middle">12</text>
<text x="337.80" y="186.50" font-size="4.0" font-weight="bold" fill="#383838" text-anchor="middle">13</text>
<text x="349.70" y="186.50" font-size="4.0" font-weight="bold" fill="#383838" text-anchor="middle">14</text>
<polygon points="200.95,186.48 206.90,194.90 200.95,203.32 195.00,194.90" fill="#bfbff6" stroke="#cfcfcb" stroke-width="0.55"/>
<polygon points="206.90,194.90 212.85,203.32 206.90,211.74 200.95,203.32" fill="#bfbff6" stroke="#cfcfcb" stroke-width="0.55"/>
<polygon points="212.85,203.32 218.80,211.74 212.85,220.16 206.90,211.74" fill="#bfbff6" stroke="#cfcfcb" stroke-width="0.55"/>
<polygon points="218.80,211.74 224.75,220.16 218.80,228.58 212.85,220.16" fill="#ff1616" stroke="#cfcfcb" stroke-width="0.55"/>
<text x="218.80" y="221.81" font-size="4.5" fill="#7a7a7a" text-anchor="middle" textLength="3.80" lengthAdjust="spacingAndGlyphs" style="mix-blend-mode:multiply">95</text>
<polygon points="224.75,220.16 230.70,228.58 224.75,237.00 218.80,228.58" fill="#ff2323" stroke="#cfcfcb" stroke-width="0.55"/>
<text x="224.75" y="230.23" font-size="4.5" fill="#7a7a7a" text-anchor="middle" textLength="3.80" lengthAdjust="spacingAndGlyphs" style="mix-blend-mode:multiply">92</text>
<polygon points="230.70,228.58 236.65,237.00 230.70,245.42 224.75,237.00" fill="#ffbbbb" stroke="#cfcfcb" stroke-width="0.55"/>
<text x="230.70" y="238.65" font-size="4.5" fill="#7a7a7a" text-anchor="middle" textLength="3.80" lengthAdjust="spacingAndGlyphs" style="mix-blend-mode:multiply">58</text>
<polygon points="236.65,237.00 242.60,245.42 236.65,253.84 230.70,245.42" fill="#ffe0e0" stroke="#cfcfcb" stroke-width="0.55"/>
<text x="236.65" y="247.07" font-size="4.5" fill="#7a7a7a" text-anchor="middle" textLength="3.80" lengthAdjust="spacingAndGlyphs" style="mix-blend-mode:multiply">40</text>
<polygon points="242.60,245.42 248.55,253.84 242.60,262.26 236.65,253.84" fill="#ff8585" stroke="#cfcfcb" stroke-width="0.55"/>
<text x="242.60" y="255.49" font-size="4.5" fill="#7a7a7a" text-anchor="middle" textLength="3.80" lengthAdjust="spacingAndGlyphs" style="mix-blend-mode:multiply">70</text>
<polygon points="248.55,253.84 254.50,262.26 248.55,270.68 242.60,262.26" fill="#ffe0e0" stroke="#cfcfcb" stroke-width="0.55"/>
<text x="248.55" y="263.91" font-size="4.5" fill="#7a7a7a" text-anchor="middle" textLength="3.80" lengthAdjust="spacingAndGlyphs" style="mix-blend-mode:multiply">45</text>
<polygon points="254.50,262.26 260.45,270.68 254.50,279.10 248.55,270.68" fill="#ff5959" stroke="#cfcfcb" stroke-width="0.55"/>
<text x="254.50" y="272.33" font-size="4.5" fill="#7a7a7a" text-anchor="middle" textLength="3.80" lengthAdjust="spacingAndGlyphs" style="mix-blend-mode:multiply">80</text>
<polygon points="260.45,270.68 266.40,279.10 260.45,287.52 254.50,279.10" fill="#ffe0e0" stroke="#cfcfcb" stroke-width="0.55"/>
<text x="260.45" y="280.75" font-size="4.5" fill="#7a7a7a" text-anchor="middle" textLength="3.80" lengthAdjust="spacingAndGlyphs" style="mix-blend-mode:multiply">44</text>
<polygon points="266.40,279.10 272.35,287.52 266.40,295.94 260.45,287.52" fill="#ffd1d1" stroke="#cfcfcb" stroke-width="0.55"/>
<text x="266.40" y="289.17" font-size="4.5" fill="#7a7a7a" text-anchor="middle" textLength="3.80" lengthAdjust="spacingAndGlyphs" style="mix-blend-mode:multiply">53</text>
<polygon points="272.35,287.52 278.30,295.94 272.35,304.36 266.40,295.94" fill="#ffe0e0" stroke="#cfcfcb" stroke-width="0.55"/>
<text x="272.35" y="297.59" font-size="4.5" fill="#7a7a7a" text-anchor="middle" textLength="3.80" lengthAdjust="spacingAndGlyphs" style="mix-blend-mode:multiply">44</text>
<polygon points="212.85,186.48 218.80,194.90 212.85,203.32 206.90,194.90" fill="#ff0000" stroke="#cfcfcb" stroke-width="0.55"/>
<polygon points="218.80,194.90 224.75,203.32 218.80,211.74 212.85,203.32" fill="#ff0000" stroke="#cfcfcb" stroke-width="0.55"/>
<polygon points="224.75,203.32 230.70,211.74 224.75,220.16 218.80,211.74" fill="#ffe0e0" stroke="#cfcfcb" stroke-width="0.55"/>
<text x="224.75" y="213.39" font-size="4.5" fill="#7a7a7a" text-anchor="middle" textLength="3.80" lengthAdjust="spacingAndGlyphs" style="mix-blend-mode:multiply">44</text>
<polygon points="230.70,211.74 236.65,220.16 230.70,228.58 224.75,220.16" fill="#ffffff" stroke="#cfcfcb" stroke-width="0.55"/>
<text x="230.70" y="221.81" font-size="4.5" fill="#7a7a7a" text-anchor="middle" textLength="3.80" lengthAdjust="spacingAndGlyphs" style="mix-blend-mode:multiply">16</text>
<polygon points="236.65,220.16 242.60,228.58 236.65,237.00 230.70,228.58" fill="#ffffff" stroke="#cfcfcb" stroke-width="0.55"/>
<text x="236.65" y="230.23" font-size="4.5" fill="#7a7a7a" text-anchor="middle" textLength="1.90" lengthAdjust="spacingAndGlyphs" style="mix-blend-mode:multiply">1</text>
<polygon points="242.60,228.58 248.55,237.00 242.60,245.42 236.65,237.00" fill="#ffffff" stroke="#cfcfcb" stroke-width="0.55"/>
<text x="242.60" y="238.65" font-size="4.5" fill="#7a7a7a" text-anchor="middle" textLength="1.90" lengthAdjust="spacingAndGlyphs" style="mix-blend-mode:multiply">6</text>
<polygon points="248.55,237.00 254.50,245.42 248.55,253.84 242.60,245.42" fill="#ffffff" stroke="#cfcfcb" stroke-width="0.55"/>
<text x="248.55" y="247.07" font-size="4.5" fill="#7a7a7a" text-anchor="middle" textLength="3.80" lengthAdjust="spacingAndGlyphs" style="mix-blend-mode:multiply">28</text>
<polygon points="254.50,245.42 260.45,253.84 254.50,262.26 248.55,253.84" fill="#ffffff" stroke="#cfcfcb" stroke-width="0.55"/>
<text x="254.50" y="255.49" font-size="4.5" fill="#7a7a7a" text-anchor="middle" textLength="1.90" lengthAdjust="spacingAndGlyphs" style="mix-blend-mode:multiply">6</text>
<polygon points="260.45,253.84 266.40,262.26 260.45,270.68 254.50,262.26" fill="#ffffff" stroke="#cfcfcb" stroke-width="0.55"/>
<text x="260.45" y="263.91" font-size="4.5" fill="#7a7a7a" text-anchor="middle" textLength="1.90" lengthAdjust="spacingAndGlyphs" style="mix-blend-mode:multiply">1</text>
<polygon points="266.40,262.26 272.35,270.68 266.40,279.10 260.45,270.68" fill="#ffffff" stroke="#cfcfcb" stroke-width="0.55"/>
<text x="266.40" y="272.33" font-size="4.6" font-weight="bold" fill="#222" text-anchor="middle" textLength="4.30" lengthAdjust="spacingAndGlyphs">84</text>
<polygon points="272.35,270.68 278.30,279.10 272.35,287.52 266.40,279.10" fill="#ffffff" stroke="#cfcfcb" stroke-width="0.55"/>
<text x="272.35" y="280.75" font-size="4.5" fill="#7a7a7a" text-anchor="middle" textLength="3.80" lengthAdjust="spacingAndGlyphs" style="mix-blend-mode:multiply">13</text>
<polygon points="278.30,279.10 284.25,287.52 278.30,295.94 272.35,287.52" fill="#ffffff" stroke="#cfcfcb" stroke-width="0.55"/>
<text x="278.30" y="289.17" font-size="4.6" font-weight="bold" fill="#222" text-anchor="middle" textLength="4.30" lengthAdjust="spacingAndGlyphs">84</text>
<polygon points="224.75,186.48 230.70,194.90 224.75,203.32 218.80,194.90" fill="#ff0000" stroke="#cfcfcb" stroke-width="0.55"/>
<polygon points="230.70,194.90 236.65,203.32 230.70,211.74 224.75,203.32" fill="#ffe0e0" stroke="#cfcfcb" stroke-width="0.55"/>
<text x="230.70" y="204.97" font-size="4.5" fill="#7a7a7a" text-anchor="middle" textLength="3.80" lengthAdjust="spacingAndGlyphs" style="mix-blend-mode:multiply">44</text>
<polygon points="236.65,203.32 242.60,211.74 236.65,220.16 230.70,211.74" fill="#ffffff" stroke="#cfcfcb" stroke-width="0.55"/>
<text x="236.65" y="213.39" font-size="4.5" fill="#7a7a7a" text-anchor="middle" textLength="3.80" lengthAdjust="spacingAndGlyphs" style="mix-blend-mode:multiply">16</text>
<polygon points="242.60,211.74 248.55,220.16 242.60,228.58 236.65,220.16" fill="#ffffff" stroke="#cfcfcb" stroke-width="0.55"/>
<text x="242.60" y="221.81" font-size="4.5" fill="#7a7a7a" text-anchor="middle" textLength="1.90" lengthAdjust="spacingAndGlyphs" style="mix-blend-mode:multiply">7</text>
<polygon points="248.55,220.16 254.50,228.58 248.55,237.00 242.60,228.58" fill="#ffffff" stroke="#cfcfcb" stroke-width="0.55"/>
<text x="248.55" y="230.23" font-size="4.5" fill="#7a7a7a" text-anchor="middle" textLength="1.90" lengthAdjust="spacingAndGlyphs" style="mix-blend-mode:multiply">6</text>
<polygon points="254.50,228.58 260.45,237.00 254.50,245.42 248.55,237.00" fill="#ffffff" stroke="#cfcfcb" stroke-width="0.55"/>
<text x="254.50" y="238.65" font-size="4.5" fill="#7a7a7a" text-anchor="middle" textLength="3.80" lengthAdjust="spacingAndGlyphs" style="mix-blend-mode:multiply">28</text>
<polygon points="260.45,237.00 266.40,245.42 260.45,253.84 254.50,245.42" fill="#ffffff" stroke="#cfcfcb" stroke-width="0.55"/>
<text x="260.45" y="247.07" font-size="4.5" fill="#7a7a7a" text-anchor="middle" textLength="1.90" lengthAdjust="spacingAndGlyphs" style="mix-blend-mode:multiply">6</text>
<polygon points="266.40,245.42 272.35,253.84 266.40,262.26 260.45,253.84" fill="#ffffff" stroke="#cfcfcb" stroke-width="0.55"/>
<text x="266.40" y="255.49" font-size="4.5" fill="#7a7a7a" text-anchor="middle" textLength="1.90" lengthAdjust="spacingAndGlyphs" style="mix-blend-mode:multiply">1</text>
<polygon points="272.35,253.84 278.30,262.26 272.35,270.68 266.40,262.26" fill="#ffffff" stroke="#cfcfcb" stroke-width="0.55"/>
<text x="272.35" y="263.91" font-size="4.6" font-weight="bold" fill="#222" text-anchor="middle" textLength="4.30" lengthAdjust="spacingAndGlyphs">84</text>
<polygon points="278.30,262.26 284.25,270.68 278.30,279.10 272.35,270.68" fill="#ffffff" stroke="#cfcfcb" stroke-width="0.55"/>
<text x="278.30" y="272.33" font-size="4.5" fill="#7a7a7a" text-anchor="middle" textLength="3.80" lengthAdjust="spacingAndGlyphs" style="mix-blend-mode:multiply">13</text>
<polygon points="284.25,270.68 290.20,279.10 284.25,287.52 278.30,279.10" fill="#ffffff" stroke="#cfcfcb" stroke-width="0.55"/>
<text x="284.25" y="280.75" font-size="4.6" font-weight="bold" fill="#222" text-anchor="middle" textLength="4.30" lengthAdjust="spacingAndGlyphs">84</text>
<polygon points="236.65,186.48 242.60,194.90 236.65,203.32 230.70,194.90" fill="#ffe0e0" stroke="#cfcfcb" stroke-width="0.55"/>
<text x="236.65" y="196.55" font-size="4.5" fill="#7a7a7a" text-anchor="middle" textLength="3.80" lengthAdjust="spacingAndGlyphs" style="mix-blend-mode:multiply">44</text>
<polygon points="242.60,194.90 248.55,203.32 242.60,211.74 236.65,203.32" fill="#ffffff" stroke="#cfcfcb" stroke-width="0.55"/>
<text x="242.60" y="204.97" font-size="4.5" fill="#7a7a7a" text-anchor="middle" textLength="3.80" lengthAdjust="spacingAndGlyphs" style="mix-blend-mode:multiply">10</text>
<polygon points="248.55,203.32 254.50,211.74 248.55,220.16 242.60,211.74" fill="#ffffff" stroke="#cfcfcb" stroke-width="0.55"/>
<text x="248.55" y="213.39" font-size="4.5" fill="#7a7a7a" text-anchor="middle" textLength="1.90" lengthAdjust="spacingAndGlyphs" style="mix-blend-mode:multiply">1</text>
<polygon points="254.50,211.74 260.45,220.16 254.50,228.58 248.55,220.16" fill="#ffffff" stroke="#cfcfcb" stroke-width="0.55"/>
<text x="254.50" y="221.81" font-size="4.5" fill="#7a7a7a" text-anchor="middle" textLength="1.90" lengthAdjust="spacingAndGlyphs" style="mix-blend-mode:multiply">6</text>
<polygon points="260.45,220.16 266.40,228.58 260.45,237.00 254.50,228.58" fill="#ffffff" stroke="#cfcfcb" stroke-width="0.55"/>
<text x="260.45" y="230.23" font-size="4.5" fill="#7a7a7a" text-anchor="middle" textLength="3.80" lengthAdjust="spacingAndGlyphs" style="mix-blend-mode:multiply">28</text>
<polygon points="266.40,228.58 272.35,237.00 266.40,245.42 260.45,237.00" fill="#ffffff" stroke="#cfcfcb" stroke-width="0.55"/>
<text x="266.40" y="238.65" font-size="4.5" fill="#7a7a7a" text-anchor="middle" textLength="1.90" lengthAdjust="spacingAndGlyphs" style="mix-blend-mode:multiply">6</text>
<polygon points="272.35,237.00 278.30,245.42 272.35,253.84 266.40,245.42" fill="#ffffff" stroke="#cfcfcb" stroke-width="0.55"/>
<text x="272.35" y="247.07" font-size="4.5" fill="#7a7a7a" text-anchor="middle" textLength="1.90" lengthAdjust="spacingAndGlyphs" style="mix-blend-mode:multiply">1</text>
<polygon points="278.30,245.42 284.25,253.84 278.30,262.26 272.35,253.84" fill="#ffffff" stroke="#cfcfcb" stroke-width="0.55"/>
<text x="278.30" y="255.49" font-size="4.6" font-weight="bold" fill="#222" text-anchor="middle" textLength="4.30" lengthAdjust="spacingAndGlyphs">84</text>
<polygon points="284.25,253.84 290.20,262.26 284.25,270.68 278.30,262.26" fill="#ffffff" stroke="#cfcfcb" stroke-width="0.55"/>
<text x="284.25" y="263.91" font-size="4.5" fill="#7a7a7a" text-anchor="middle" textLength="3.80" lengthAdjust="spacingAndGlyphs" style="mix-blend-mode:multiply">13</text>
<polygon points="290.20,262.26 296.15,270.68 290.20,279.10 284.25,270.68" fill="#ffffff" stroke="#cfcfcb" stroke-width="0.55"/>
<text x="290.20" y="272.33" font-size="4.6" font-weight="bold" fill="#222" text-anchor="middle" textLength="4.30" lengthAdjust="spacingAndGlyphs">84</text>
<polygon points="248.55,186.48 254.50,194.90 248.55,203.32 242.60,194.90" fill="#ff0000" stroke="#cfcfcb" stroke-width="0.55"/>
<polygon points="254.50,194.90 260.45,203.32 254.50,211.74 248.55,203.32" fill="#ffe0e0" stroke="#cfcfcb" stroke-width="0.55"/>
<text x="254.50" y="204.97" font-size="4.5" fill="#7a7a7a" text-anchor="middle" textLength="3.80" lengthAdjust="spacingAndGlyphs" style="mix-blend-mode:multiply">47</text>
<polygon points="260.45,203.32 266.40,211.74 260.45,220.16 254.50,211.74" fill="#ffe0e0" stroke="#cfcfcb" stroke-width="0.55"/>
<text x="260.45" y="213.39" font-size="4.5" fill="#7a7a7a" text-anchor="middle" textLength="3.80" lengthAdjust="spacingAndGlyphs" style="mix-blend-mode:multiply">25</text>
<polygon points="266.40,211.74 272.35,220.16 266.40,228.58 260.45,220.16" fill="#ffbfbf" stroke="#cfcfcb" stroke-width="0.55"/>
<text x="266.40" y="221.81" font-size="4.5" fill="#7a7a7a" text-anchor="middle" textLength="3.80" lengthAdjust="spacingAndGlyphs" style="mix-blend-mode:multiply">57</text>
<polygon points="272.35,220.16 278.30,228.58 272.35,237.00 266.40,228.58" fill="#ffe0e0" stroke="#cfcfcb" stroke-width="0.55"/>
<text x="272.35" y="230.23" font-size="4.5" fill="#7a7a7a" text-anchor="middle" textLength="3.80" lengthAdjust="spacingAndGlyphs" style="mix-blend-mode:multiply">28</text>
<polygon points="278.30,228.58 284.25,237.00 278.30,245.42 272.35,237.00" fill="#ffa5a5" stroke="#cfcfcb" stroke-width="0.55"/>
<text x="278.30" y="238.65" font-size="4.5" fill="#7a7a7a" text-anchor="middle" textLength="3.80" lengthAdjust="spacingAndGlyphs" style="mix-blend-mode:multiply">63</text>
<polygon points="284.25,237.00 290.20,245.42 284.25,253.84 278.30,245.42" fill="#ffdada" stroke="#cfcfcb" stroke-width="0.55"/>
<text x="284.25" y="247.07" font-size="4.5" fill="#7a7a7a" text-anchor="middle" textLength="3.80" lengthAdjust="spacingAndGlyphs" style="mix-blend-mode:multiply">51</text>
<polygon points="290.20,245.42 296.15,253.84 290.20,262.26 284.25,253.84" fill="#ffe0e0" stroke="#cfcfcb" stroke-width="0.55"/>
<text x="290.20" y="255.49" font-size="4.5" fill="#7a7a7a" text-anchor="middle" textLength="3.80" lengthAdjust="spacingAndGlyphs" style="mix-blend-mode:multiply">30</text>
<polygon points="296.15,253.84 302.10,262.26 296.15,270.68 290.20,262.26" fill="#ffdada" stroke="#cfcfcb" stroke-width="0.55"/>
<text x="296.15" y="263.91" font-size="4.5" fill="#7a7a7a" text-anchor="middle" textLength="3.80" lengthAdjust="spacingAndGlyphs" style="mix-blend-mode:multiply">51</text>
<polygon points="260.45,186.48 266.40,194.90 260.45,203.32 254.50,194.90" fill="#ffc8c8" stroke="#cfcfcb" stroke-width="0.55"/>
<text x="260.45" y="196.55" font-size="4.5" fill="#7a7a7a" text-anchor="middle" textLength="3.80" lengthAdjust="spacingAndGlyphs" style="mix-blend-mode:multiply">55</text>
<polygon points="266.40,194.90 272.35,203.32 266.40,211.74 260.45,203.32" fill="#ffe0e0" stroke="#cfcfcb" stroke-width="0.55"/>
<text x="266.40" y="204.97" font-size="4.5" fill="#7a7a7a" text-anchor="middle" textLength="3.80" lengthAdjust="spacingAndGlyphs" style="mix-blend-mode:multiply">45</text>
<polygon points="272.35,203.32 278.30,211.74 272.35,220.16 266.40,211.74" fill="#ff3e3e" stroke="#cfcfcb" stroke-width="0.55"/>
<text x="272.35" y="213.39" font-size="4.5" fill="#7a7a7a" text-anchor="middle" textLength="3.80" lengthAdjust="spacingAndGlyphs" style="mix-blend-mode:multiply">86</text>
<polygon points="278.30,211.74 284.25,220.16 278.30,228.58 272.35,220.16" fill="#ffe0e0" stroke="#cfcfcb" stroke-width="0.55"/>
<text x="278.30" y="221.81" font-size="4.5" fill="#7a7a7a" text-anchor="middle" textLength="3.80" lengthAdjust="spacingAndGlyphs" style="mix-blend-mode:multiply">15</text>
<polygon points="284.25,220.16 290.20,228.58 284.25,237.00 278.30,228.58" fill="#ff3535" stroke="#cfcfcb" stroke-width="0.55"/>
<text x="284.25" y="230.23" font-size="4.5" fill="#7a7a7a" text-anchor="middle" textLength="3.80" lengthAdjust="spacingAndGlyphs" style="mix-blend-mode:multiply">88</text>
<polygon points="290.20,228.58 296.15,237.00 290.20,245.42 284.25,237.00" fill="#ffe0e0" stroke="#cfcfcb" stroke-width="0.55"/>
<text x="290.20" y="238.65" font-size="4.5" fill="#7a7a7a" text-anchor="middle" textLength="3.80" lengthAdjust="spacingAndGlyphs" style="mix-blend-mode:multiply">44</text>
<polygon points="296.15,237.00 302.10,245.42 296.15,253.84 290.20,245.42" fill="#ffd0d0" stroke="#cfcfcb" stroke-width="0.55"/>
<text x="296.15" y="247.07" font-size="4.5" fill="#7a7a7a" text-anchor="middle" textLength="3.80" lengthAdjust="spacingAndGlyphs" style="mix-blend-mode:multiply">63</text>
<polygon points="302.10,245.42 308.05,253.84 302.10,262.26 296.15,253.84" fill="#ffe0e0" stroke="#cfcfcb" stroke-width="0.55"/>
<text x="302.10" y="255.49" font-size="4.5" fill="#7a7a7a" text-anchor="middle" textLength="3.80" lengthAdjust="spacingAndGlyphs" style="mix-blend-mode:multiply">44</text>
<polygon points="272.35,186.48 278.30,194.90 272.35,203.32 266.40,194.90" fill="#ff0000" stroke="#cfcfcb" stroke-width="0.55"/>
<polygon points="278.30,194.90 284.25,203.32 278.30,211.74 272.35,203.32" fill="#ff0000" stroke="#cfcfcb" stroke-width="0.55"/>
<polygon points="284.25,203.32 290.20,211.74 284.25,220.16 278.30,211.74" fill="#ff0000" stroke="#cfcfcb" stroke-width="0.55"/>
<polygon points="290.20,211.74 296.15,220.16 290.20,228.58 284.25,220.16" fill="#ff0000" stroke="#cfcfcb" stroke-width="0.55"/>
<polygon points="296.15,220.16 302.10,228.58 296.15,237.00 290.20,228.58" fill="#ff0000" stroke="#cfcfcb" stroke-width="0.55"/>
<polygon points="302.10,228.58 308.05,237.00 302.10,245.42 296.15,237.00" fill="#ff0000" stroke="#cfcfcb" stroke-width="0.55"/>
<polygon points="308.05,237.00 314.00,245.42 308.05,253.84 302.10,245.42" fill="#ff0000" stroke="#cfcfcb" stroke-width="0.55"/>
<polygon points="284.25,186.48 290.20,194.90 284.25,203.32 278.30,194.90" fill="#ff0000" stroke="#cfcfcb" stroke-width="0.55"/>
<polygon points="290.20,194.90 296.15,203.32 290.20,211.74 284.25,203.32" fill="#ff0000" stroke="#cfcfcb" stroke-width="0.55"/>
<polygon points="296.15,203.32 302.10,211.74 296.15,220.16 290.20,211.74" fill="#ff0000" stroke="#cfcfcb" stroke-width="0.55"/>
<polygon points="302.10,211.74 308.05,220.16 302.10,228.58 296.15,220.16" fill="#ff0000" stroke="#cfcfcb" stroke-width="0.55"/>
<polygon points="308.05,220.16 314.00,228.58 308.05,237.00 302.10,228.58" fill="#ff0000" stroke="#cfcfcb" stroke-width="0.55"/>
<polygon points="314.00,228.58 319.95,237.00 314.00,245.42 308.05,237.00" fill="#ff0000" stroke="#cfcfcb" stroke-width="0.55"/>
<polygon points="296.15,186.48 302.10,194.90 296.15,203.32 290.20,194.90" fill="#ff0000" stroke="#cfcfcb" stroke-width="0.55"/>
<polygon points="302.10,194.90 308.05,203.32 302.10,211.74 296.15,203.32" fill="#ff0000" stroke="#cfcfcb" stroke-width="0.55"/>
<polygon points="308.05,203.32 314.00,211.74 308.05,220.16 302.10,211.74" fill="#ff0000" stroke="#cfcfcb" stroke-width="0.55"/>
<polygon points="314.00,211.74 319.95,220.16 314.00,228.58 308.05,220.16" fill="#ff3535" stroke="#cfcfcb" stroke-width="0.55"/>
<text x="314.00" y="221.81" font-size="4.5" fill="#7a7a7a" text-anchor="middle" textLength="3.80" lengthAdjust="spacingAndGlyphs" style="mix-blend-mode:multiply">88</text>
<polygon points="319.95,220.16 325.90,228.58 319.95,237.00 314.00,228.58" fill="#ff0000" stroke="#cfcfcb" stroke-width="0.55"/>
<polygon points="308.05,186.48 314.00,194.90 308.05,203.32 302.10,194.90" fill="#ff0000" stroke="#cfcfcb" stroke-width="0.55"/>
<polygon points="314.00,194.90 319.95,203.32 314.00,211.74 308.05,203.32" fill="#ff0000" stroke="#cfcfcb" stroke-width="0.55"/>
<polygon points="319.95,203.32 325.90,211.74 319.95,220.16 314.00,211.74" fill="#ff0000" stroke="#cfcfcb" stroke-width="0.55"/>
<polygon points="325.90,211.74 331.85,220.16 325.90,228.58 319.95,220.16" fill="#ff0000" stroke="#cfcfcb" stroke-width="0.55"/>
<polygon points="319.95,186.48 325.90,194.90 319.95,203.32 314.00,194.90" fill="#ff0000" stroke="#cfcfcb" stroke-width="0.55"/>
<polygon points="325.90,194.90 331.85,203.32 325.90,211.74 319.95,203.32" fill="#ff3e3e" stroke="#cfcfcb" stroke-width="0.55"/>
<text x="325.90" y="204.97" font-size="4.5" fill="#7a7a7a" text-anchor="middle" textLength="3.80" lengthAdjust="spacingAndGlyphs" style="mix-blend-mode:multiply">86</text>
<polygon points="331.85,203.32 337.80,211.74 331.85,220.16 325.90,211.74" fill="#ff0000" stroke="#cfcfcb" stroke-width="0.55"/>
<polygon points="331.85,186.48 337.80,194.90 331.85,203.32 325.90,194.90" fill="#ff0000" stroke="#cfcfcb" stroke-width="0.55"/>
<polygon points="337.80,194.90 343.75,203.32 337.80,211.74 331.85,203.32" fill="#ff0000" stroke="#cfcfcb" stroke-width="0.55"/>
<polygon points="343.75,186.48 349.70,194.90 343.75,203.32 337.80,194.90" fill="#ff0000" stroke="#cfcfcb" stroke-width="0.55"/>
<polyline points="200.95,186.48 200.95,174.10" fill="none" stroke="#3a3a3a" stroke-width="1.0"/>
<polyline points="236.65,186.48 236.65,174.10" fill="none" stroke="#3a3a3a" stroke-width="1.0"/>
<line x1="200.45" y1="174.60" x2="237.15" y2="174.60" stroke="#3a3a3a" stroke-width="1.0"/>
<polyline points="236.65,186.48 218.80,211.74 200.95,186.48" fill="none" stroke="#111" stroke-width="1.0" stroke-linejoin="miter"/>
<text x="201.95" y="180.60" font-size="2.9" fill="#444">Block 1 (7 kb)</text>
<polyline points="236.65,186.48 236.65,174.10" fill="none" stroke="#3a3a3a" stroke-width="1.0"/>
<polyline points="260.45,186.48 260.45,174.10" fill="none" stroke="#3a3a3a" stroke-width="1.0"/>
<line x1="236.15" y1="174.60" x2="260.95" y2="174.60" stroke="#3a3a3a" stroke-width="1.0"/>
<polyline points="260.45,186.48 248.55,203.32 236.65,186.48" fill="none" stroke="#111" stroke-width="1.0" stroke-linejoin="miter"/>
<text x="237.65" y="180.60" font-size="2.9" fill="#444">Block 2 (2 kb)</text>
<polyline points="260.45,186.48 260.45,174.10" fill="none" stroke="#3a3a3a" stroke-width="1.0"/>
<polyline points="355.65,186.48 355.65,174.10" fill="none" stroke="#3a3a3a" stroke-width="1.0"/>
<line x1="259.95" y1="174.60" x2="356.15" y2="174.60" stroke="#3a3a3a" stroke-width="1.0"/>
<polyline points="355.65,186.48 308.05,253.84 260.45,186.48" fill="none" stroke="#111" stroke-width="1.0" stroke-linejoin="miter"/>
<text x="261.45" y="180.60" font-size="2.9" fill="#444">Block 3 (7 kb)</text>
<rect x="363" y="95" width="181" height="210" fill="#d4d0c8"/>
<rect x="363" y="95" width="3" height="210" fill="#d5d1c5"/>
<rect x="539.0" y="95" width="5.0" height="210" fill="#d3cfc4"/>
<text x="366.6" y="105.6" font-size="8.4" font-weight="bold" fill="#111" stroke="#111" stroke-width="0.3" textLength="91.0" lengthAdjust="spacingAndGlyphs">Asian (Han Chinese in Beijing, China)</text>
<text x="366.6" y="122.20" font-size="7.3" font-weight="bold" fill="#111" stroke="#111" stroke-width="0.25" textLength="17.7" lengthAdjust="spacingAndGlyphs">CYP4B1</text>
<text x="417.8" y="122.20" font-size="7.3" font-weight="bold" fill="#111" stroke="#111" stroke-width="0.25" textLength="19.7" lengthAdjust="spacingAndGlyphs">CYP4A11</text>
<text x="517.0" y="122.20" font-size="7.3" font-weight="bold" fill="#111" stroke="#111" stroke-width="0.25" textLength="20.2" lengthAdjust="spacingAndGlyphs">CYP4A22</text>
<rect x="372.0" y="126.60" width="164.3" height="2.1" fill="#fff"/>
<line x1="372.0" y1="128.60" x2="371.20" y2="141.5" stroke="#8a8a8a" stroke-width="0.45"/>
<line x1="372.0" y1="128.60" x2="383.90" y2="141.5" stroke="#8a8a8a" stroke-width="0.45"/>
<line x1="372.0" y1="128.60" x2="396.60" y2="141.5" stroke="#8a8a8a" stroke-width="0.45"/>
<line x1="372.0" y1="128.60" x2="409.30" y2="141.5" stroke="#8a8a8a" stroke-width="0.45"/>
<line x1="429.3" y1="128.60" x2="422.00" y2="141.5" stroke="#8a8a8a" stroke-width="0.45"/>
<line x1="429.3" y1="128.60" x2="434.70" y2="141.5" stroke="#8a8a8a" stroke-width="0.45"/>
<line x1="533.8" y1="128.60" x2="447.40" y2="141.5" stroke="#8a8a8a" stroke-width="0.45"/>
<line x1="533.8" y1="128.60" x2="460.10" y2="141.5" stroke="#8a8a8a" stroke-width="0.45"/>
<line x1="533.8" y1="128.60" x2="472.80" y2="141.5" stroke="#8a8a8a" stroke-width="0.45"/>
<line x1="533.8" y1="128.60" x2="485.50" y2="141.5" stroke="#8a8a8a" stroke-width="0.45"/>
<line x1="533.8" y1="128.60" x2="498.20" y2="141.5" stroke="#8a8a8a" stroke-width="0.45"/>
<line x1="533.8" y1="128.60" x2="510.90" y2="141.5" stroke="#8a8a8a" stroke-width="0.45"/>
<line x1="533.8" y1="128.60" x2="523.60" y2="141.5" stroke="#8a8a8a" stroke-width="0.45"/>
<line x1="533.8" y1="128.60" x2="536.30" y2="141.5" stroke="#8a8a8a" stroke-width="0.45"/>
<rect x="370.9" y="126.30" width="2.2" height="2.8" fill="#999"/>
<rect x="428.2" y="126.30" width="2.2" height="2.8" fill="#999"/>
<rect x="532.5" y="126.00" width="2.6" height="3.2" fill="#333"/>
<text transform="translate(372.40,169.2) rotate(-90)" font-size="3.0" font-weight="normal" fill="#666" textLength="21.3" lengthAdjust="spacingAndGlyphs">rs4646487</text>
<text transform="translate(385.10,169.2) rotate(-90)" font-size="3.0" font-weight="bold" fill="#000" textLength="21.3" lengthAdjust="spacingAndGlyphs">rs2297810</text>
<text transform="translate(397.80,169.2) rotate(-90)" font-size="3.0" font-weight="bold" fill="#000" textLength="21.3" lengthAdjust="spacingAndGlyphs">rs4646491</text>
<text transform="translate(410.50,169.2) rotate(-90)" font-size="3.0" font-weight="bold" fill="#000" textLength="21.3" lengthAdjust="spacingAndGlyphs">rs2297809</text>
<text transform="translate(423.20,169.2) rotate(-90)" font-size="3.0" font-weight="normal" fill="#666" textLength="21.3" lengthAdjust="spacingAndGlyphs">rs1126433</text>
<text transform="translate(435.90,169.2) rotate(-90)" font-size="3.0" font-weight="normal" fill="#666" textLength="21.3" lengthAdjust="spacingAndGlyphs">rs1126432</text>
<text transform="translate(448.60,169.2) rotate(-90)" font-size="3.0" font-weight="bold" fill="#000" textLength="25.0" lengthAdjust="spacingAndGlyphs">rs12564525</text>
<text transform="translate(461.30,169.2) rotate(-90)" font-size="3.0" font-weight="bold" fill="#000" textLength="21.3" lengthAdjust="spacingAndGlyphs">rs2056900</text>
<text transform="translate(474.00,169.2) rotate(-90)" font-size="3.0" font-weight="normal" fill="#666" textLength="21.3" lengthAdjust="spacingAndGlyphs">rs2056899</text>
<text transform="translate(486.70,169.2) rotate(-90)" font-size="3.0" font-weight="bold" fill="#000" textLength="25.0" lengthAdjust="spacingAndGlyphs">rs11211762</text>
<text transform="translate(499.40,169.2) rotate(-90)" font-size="3.0" font-weight="bold" fill="#000" textLength="21.3" lengthAdjust="spacingAndGlyphs">rs9333025</text>
<text transform="translate(512.10,169.2) rotate(-90)" font-size="3.0" font-weight="bold" fill="#000" textLength="25.0" lengthAdjust="spacingAndGlyphs">rs11211763</text>
<text transform="translate(524.80,169.2) rotate(-90)" font-size="3.0" font-weight="bold" fill="#000" textLength="21.3" lengthAdjust="spacingAndGlyphs">rs2405599</text>
<text transform="translate(537.50,169.2) rotate(-90)" font-size="3.0" font-weight="bold" fill="#000" textLength="21.3" lengthAdjust="spacingAndGlyphs">rs4926600</text>
<text x="371.20" y="187.80" font-size="4.0" font-weight="bold" fill="#383838" text-anchor="middle">1</text>
<text x="383.90" y="187.80" font-size="4.0" font-weight="bold" fill="#383838" text-anchor="middle">2</text>
<text x="396.60" y="187.80" font-size="4.0" font-weight="bold" fill="#383838" text-anchor="middle">3</text>
<text x="409.30" y="187.80" font-size="4.0" font-weight="bold" fill="#383838" text-anchor="middle">4</text>
<text x="422.00" y="187.80" font-size="4.0" font-weight="bold" fill="#383838" text-anchor="middle">5</text>
<text x="434.70" y="187.80" font-size="4.0" font-weight="bold" fill="#383838" text-anchor="middle">6</text>
<text x="447.40" y="187.80" font-size="4.0" font-weight="bold" fill="#383838" text-anchor="middle">7</text>
<text x="460.10" y="187.80" font-size="4.0" font-weight="bold" fill="#383838" text-anchor="middle">8</text>
<text x="472.80" y="187.80" font-size="4.0" font-weight="bold" fill="#383838" text-anchor="middle">9</text>
<text x="485.50" y="187.80" font-size="4.0" font-weight="bold" fill="#383838" text-anchor="middle">10</text>
<text x="498.20" y="187.80" font-size="4.0" font-weight="bold" fill="#383838" text-anchor="middle">11</text>
<text x="510.90" y="187.80" font-size="4.0" font-weight="bold" fill="#383838" text-anchor="middle">12</text>
<text x="523.60" y="187.80" font-size="4.0" font-weight="bold" fill="#383838" text-anchor="middle">13</text>
<text x="536.30" y="187.80" font-size="4.0" font-weight="bold" fill="#383838" text-anchor="middle">14</text>
<polygon points="377.55,187.22 383.90,195.60 377.55,203.98 371.20,195.60" fill="#bfbff6" stroke="#cfcfcb" stroke-width="0.55"/>
<polygon points="383.90,195.60 390.25,203.98 383.90,212.36 377.55,203.98" fill="#bfbff6" stroke="#cfcfcb" stroke-width="0.55"/>
<polygon points="390.25,203.98 396.60,212.36 390.25,220.74 383.90,212.36" fill="#bfbff6" stroke="#cfcfcb" stroke-width="0.55"/>
<polygon points="396.60,212.36 402.95,220.74 396.60,229.12 390.25,220.74" fill="#ff0000" stroke="#cfcfcb" stroke-width="0.55"/>
<polygon points="402.95,220.74 409.30,229.12 402.95,237.50 396.60,229.12" fill="#ff0000" stroke="#cfcfcb" stroke-width="0.55"/>
<polygon points="409.30,229.12 415.65,237.50 409.30,245.88 402.95,237.50" fill="#ff4747" stroke="#cfcfcb" stroke-width="0.55"/>
<text x="409.30" y="239.15" font-size="4.5" fill="#7a7a7a" text-anchor="middle" textLength="3.80" lengthAdjust="spacingAndGlyphs" style="mix-blend-mode:multiply">84</text>
<polygon points="415.65,237.50 422.00,245.88 415.65,254.26 409.30,245.88" fill="#ffffff" stroke="#cfcfcb" stroke-width="0.55"/>
<text x="415.65" y="247.53" font-size="4.6" font-weight="bold" fill="#222" text-anchor="middle" textLength="4.30" lengthAdjust="spacingAndGlyphs">64</text>
<polygon points="422.00,245.88 428.35,254.26 422.00,262.64 415.65,254.26" fill="#bfbff6" stroke="#cfcfcb" stroke-width="0.55"/>
<polygon points="428.35,254.26 434.70,262.64 428.35,271.02 422.00,262.64" fill="#ffffff" stroke="#cfcfcb" stroke-width="0.55"/>
<text x="428.35" y="264.29" font-size="4.6" font-weight="bold" fill="#222" text-anchor="middle" textLength="4.30" lengthAdjust="spacingAndGlyphs">64</text>
<polygon points="434.70,262.64 441.05,271.02 434.70,279.40 428.35,271.02" fill="#bfbff6" stroke="#cfcfcb" stroke-width="0.55"/>
<polygon points="441.05,271.02 447.40,279.40 441.05,287.78 434.70,279.40" fill="#ff7c7c" stroke="#cfcfcb" stroke-width="0.55"/>
<text x="441.05" y="281.05" font-size="4.5" fill="#7a7a7a" text-anchor="middle" textLength="3.80" lengthAdjust="spacingAndGlyphs" style="mix-blend-mode:multiply">72</text>
<polygon points="447.40,279.40 453.75,287.78 447.40,296.16 441.05,287.78" fill="#ff4747" stroke="#cfcfcb" stroke-width="0.55"/>
<text x="447.40" y="289.43" font-size="4.5" fill="#7a7a7a" text-anchor="middle" textLength="3.80" lengthAdjust="spacingAndGlyphs" style="mix-blend-mode:multiply">84</text>
<polygon points="453.75,287.78 460.10,296.16 453.75,304.54 447.40,296.16" fill="#ff7c7c" stroke="#cfcfcb" stroke-width="0.55"/>
<text x="453.75" y="297.81" font-size="4.5" fill="#7a7a7a" text-anchor="middle" textLength="3.80" lengthAdjust="spacingAndGlyphs" style="mix-blend-mode:multiply">72</text>
<polygon points="390.25,187.22 396.60,195.60 390.25,203.98 383.90,195.60" fill="#ff0000" stroke="#cfcfcb" stroke-width="0.55"/>
<polygon points="396.60,195.60 402.95,203.98 396.60,212.36 390.25,203.98" fill="#ff0000" stroke="#cfcfcb" stroke-width="0.55"/>
<polygon points="402.95,203.98 409.30,212.36 402.95,220.74 396.60,212.36" fill="#ffffff" stroke="#cfcfcb" stroke-width="0.55"/>
<text x="402.95" y="214.01" font-size="4.5" fill="#7a7a7a" text-anchor="middle" textLength="3.80" lengthAdjust="spacingAndGlyphs" style="mix-blend-mode:multiply">27</text>
<polygon points="409.30,212.36 415.65,220.74 409.30,229.12 402.95,220.74" fill="#ffffff" stroke="#cfcfcb" stroke-width="0.55"/>
<text x="409.30" y="222.39" font-size="4.5" fill="#7a7a7a" text-anchor="middle" textLength="3.80" lengthAdjust="spacingAndGlyphs" style="mix-blend-mode:multiply">28</text>
<polygon points="415.65,220.74 422.00,229.12 415.65,237.50 409.30,229.12" fill="#ffffff" stroke="#cfcfcb" stroke-width="0.55"/>
<text x="415.65" y="230.77" font-size="4.5" fill="#7a7a7a" text-anchor="middle" textLength="3.80" lengthAdjust="spacingAndGlyphs" style="mix-blend-mode:multiply">21</text>
<polygon points="422.00,229.12 428.35,237.50 422.00,245.88 415.65,237.50" fill="#ffe0e0" stroke="#cfcfcb" stroke-width="0.55"/>
<text x="422.00" y="239.15" font-size="4.5" fill="#7a7a7a" text-anchor="middle" textLength="3.80" lengthAdjust="spacingAndGlyphs" style="mix-blend-mode:multiply">36</text>
<polygon points="428.35,237.50 434.70,245.88 428.35,254.26 422.00,245.88" fill="#bfbff6" stroke="#cfcfcb" stroke-width="0.55"/>
<polygon points="434.70,245.88 441.05,254.26 434.70,262.64 428.35,254.26" fill="#ffe0e0" stroke="#cfcfcb" stroke-width="0.55"/>
<text x="434.70" y="255.91" font-size="4.5" fill="#7a7a7a" text-anchor="middle" textLength="3.80" lengthAdjust="spacingAndGlyphs" style="mix-blend-mode:multiply">26</text>
<polygon points="441.05,254.26 447.40,262.64 441.05,271.02 434.70,262.64" fill="#ffffff" stroke="#cfcfcb" stroke-width="0.55"/>
<text x="441.05" y="264.29" font-size="4.5" fill="#7a7a7a" text-anchor="middle" textLength="3.80" lengthAdjust="spacingAndGlyphs" style="mix-blend-mode:multiply">13</text>
<polygon points="447.40,262.64 453.75,271.02 447.40,279.40 441.05,271.02" fill="#ffffff" stroke="#cfcfcb" stroke-width="0.55"/>
<text x="447.40" y="272.67" font-size="4.5" fill="#7a7a7a" text-anchor="middle" textLength="3.80" lengthAdjust="spacingAndGlyphs" style="mix-blend-mode:multiply">22</text>
<polygon points="453.75,271.02 460.10,279.40 453.75,287.78 447.40,279.40" fill="#ffffff" stroke="#cfcfcb" stroke-width="0.55"/>
<text x="453.75" y="281.05" font-size="4.5" fill="#7a7a7a" text-anchor="middle" textLength="3.80" lengthAdjust="spacingAndGlyphs" style="mix-blend-mode:multiply">21</text>
<polygon points="460.10,279.40 466.45,287.78 460.10,296.16 453.75,287.78" fill="#ffffff" stroke="#cfcfcb" stroke-width="0.55"/>
<text x="460.10" y="289.43" font-size="4.5" fill="#7a7a7a" text-anchor="middle" textLength="3.80" lengthAdjust="spacingAndGlyphs" style="mix-blend-mode:multiply">22</text>
<polygon points="402.95,187.22 409.30,195.60 402.95,203.98 396.60,195.60" fill="#ff0000" stroke="#cfcfcb" stroke-width="0.55"/>
<polygon points="409.30,195.60 415.65,203.98 409.30,212.36 402.95,203.98" fill="#ffffff" stroke="#cfcfcb" stroke-width="0.55"/>
<text x="409.30" y="205.63" font-size="4.5" fill="#7a7a7a" text-anchor="middle" textLength="3.80" lengthAdjust="spacingAndGlyphs" style="mix-blend-mode:multiply">28</text>
<polygon points="415.65,203.98 422.00,212.36 415.65,220.74 409.30,212.36" fill="#ffffff" stroke="#cfcfcb" stroke-width="0.55"/>
<text x="415.65" y="214.01" font-size="4.5" fill="#7a7a7a" text-anchor="middle" textLength="3.80" lengthAdjust="spacingAndGlyphs" style="mix-blend-mode:multiply">32</text>
<polygon points="422.00,212.36 428.35,220.74 422.00,229.12 415.65,220.74" fill="#ffffff" stroke="#cfcfcb" stroke-width="0.55"/>
<text x="422.00" y="222.39" font-size="4.5" fill="#7a7a7a" text-anchor="middle" textLength="3.80" lengthAdjust="spacingAndGlyphs" style="mix-blend-mode:multiply">23</text>
<polygon points="428.35,220.74 434.70,229.12 428.35,237.50 422.00,229.12" fill="#ffe0e0" stroke="#cfcfcb" stroke-width="0.55"/>
<text x="428.35" y="230.77" font-size="4.5" fill="#7a7a7a" text-anchor="middle" textLength="3.80" lengthAdjust="spacingAndGlyphs" style="mix-blend-mode:multiply">28</text>
<polygon points="434.70,229.12 441.05,237.50 434.70,245.88 428.35,237.50" fill="#bfbff6" stroke="#cfcfcb" stroke-width="0.55"/>
<polygon points="441.05,237.50 447.40,245.88 441.05,254.26 434.70,245.88" fill="#ffe0e0" stroke="#cfcfcb" stroke-width="0.55"/>
<text x="441.05" y="247.53" font-size="4.5" fill="#7a7a7a" text-anchor="middle" textLength="3.80" lengthAdjust="spacingAndGlyphs" style="mix-blend-mode:multiply">36</text>
<polygon points="447.40,245.88 453.75,254.26 447.40,262.64 441.05,254.26" fill="#ffffff" stroke="#cfcfcb" stroke-width="0.55"/>
<text x="447.40" y="255.91" font-size="4.5" fill="#7a7a7a" text-anchor="middle" textLength="3.80" lengthAdjust="spacingAndGlyphs" style="mix-blend-mode:multiply">31</text>
<polygon points="453.75,254.26 460.10,262.64 453.75,271.02 447.40,262.64" fill="#ffffff" stroke="#cfcfcb" stroke-width="0.55"/>
<text x="453.75" y="264.29" font-size="4.5" fill="#7a7a7a" text-anchor="middle" textLength="3.80" lengthAdjust="spacingAndGlyphs" style="mix-blend-mode:multiply">30</text>
<polygon points="460.10,262.64 466.45,271.02 460.10,279.40 453.75,271.02" fill="#ffffff" stroke="#cfcfcb" stroke-width="0.55"/>
<text x="460.10" y="272.67" font-size="4.5" fill="#7a7a7a" text-anchor="middle" textLength="3.80" lengthAdjust="spacingAndGlyphs" style="mix-blend-mode:multiply">23</text>
<polygon points="466.45,271.02 472.80,279.40 466.45,287.78 460.10,279.40" fill="#ffffff" stroke="#cfcfcb" stroke-width="0.55"/>
<text x="466.45" y="281.05" font-size="4.5" fill="#7a7a7a" text-anchor="middle" textLength="3.80" lengthAdjust="spacingAndGlyphs" style="mix-blend-mode:multiply">36</text>
<polygon points="415.65,187.22 422.00,195.60 415.65,203.98 409.30,195.60" fill="#ffffff" stroke="#cfcfcb" stroke-width="0.55"/>
<text x="415.65" y="197.25" font-size="4.5" fill="#7a7a7a" text-anchor="middle" textLength="3.80" lengthAdjust="spacingAndGlyphs" style="mix-blend-mode:multiply">26</text>
<polygon points="422.00,195.60 428.35,203.98 422.00,212.36 415.65,203.98" fill="#ffffff" stroke="#cfcfcb" stroke-width="0.55"/>
<text x="422.00" y="205.63" font-size="4.5" fill="#7a7a7a" text-anchor="middle" textLength="3.80" lengthAdjust="spacingAndGlyphs" style="mix-blend-mode:multiply">32</text>
<polygon points="428.35,203.98 434.70,212.36 428.35,220.74 422.00,212.36" fill="#ffffff" stroke="#cfcfcb" stroke-width="0.55"/>
<text x="428.35" y="214.01" font-size="4.5" fill="#7a7a7a" text-anchor="middle" textLength="3.80" lengthAdjust="spacingAndGlyphs" style="mix-blend-mode:multiply">23</text>
<polygon points="434.70,212.36 441.05,220.74 434.70,229.12 428.35,220.74" fill="#ffe0e0" stroke="#cfcfcb" stroke-width="0.55"/>
<text x="434.70" y="222.39" font-size="4.5" fill="#7a7a7a" text-anchor="middle" textLength="3.80" lengthAdjust="spacingAndGlyphs" style="mix-blend-mode:multiply">24</text>
<polygon points="441.05,220.74 447.40,229.12 441.05,237.50 434.70,229.12" fill="#bfbff6" stroke="#cfcfcb" stroke-width="0.55"/>
<polygon points="447.40,229.12 453.75,237.50 447.40,245.88 441.05,237.50" fill="#ffe0e0" stroke="#cfcfcb" stroke-width="0.55"/>
<text x="447.40" y="239.15" font-size="4.5" fill="#7a7a7a" text-anchor="middle" textLength="3.80" lengthAdjust="spacingAndGlyphs" style="mix-blend-mode:multiply">29</text>
<polygon points="453.75,237.50 460.10,245.88 453.75,254.26 447.40,245.88" fill="#ffffff" stroke="#cfcfcb" stroke-width="0.55"/>
<text x="453.75" y="247.53" font-size="4.5" fill="#7a7a7a" text-anchor="middle" textLength="3.80" lengthAdjust="spacingAndGlyphs" style="mix-blend-mode:multiply">11</text>
<polygon points="460.10,245.88 466.45,254.26 460.10,262.64 453.75,254.26" fill="#ffffff" stroke="#cfcfcb" stroke-width="0.55"/>
<text x="460.10" y="255.91" font-size="4.5" fill="#7a7a7a" text-anchor="middle" textLength="3.80" lengthAdjust="spacingAndGlyphs" style="mix-blend-mode:multiply">30</text>
<polygon points="466.45,254.26 472.80,262.64 466.45,271.02 460.10,262.64" fill="#ffffff" stroke="#cfcfcb" stroke-width="0.55"/>
<text x="466.45" y="264.29" font-size="4.5" fill="#7a7a7a" text-anchor="middle" textLength="3.80" lengthAdjust="spacingAndGlyphs" style="mix-blend-mode:multiply">23</text>
<polygon points="472.80,262.64 479.15,271.02 472.80,279.40 466.45,271.02" fill="#ffffff" stroke="#cfcfcb" stroke-width="0.55"/>
<text x="472.80" y="272.67" font-size="4.5" fill="#7a7a7a" text-anchor="middle" textLength="3.80" lengthAdjust="spacingAndGlyphs" style="mix-blend-mode:multiply">30</text>
<polygon points="428.35,187.22 434.70,195.60 428.35,203.98 422.00,195.60" fill="#ff0000" stroke="#cfcfcb" stroke-width="0.55"/>
<polygon points="434.70,195.60 441.05,203.98 434.70,212.36 428.35,203.98" fill="#ffffff" stroke="#cfcfcb" stroke-width="0.55"/>
<text x="434.70" y="205.63" font-size="4.5" fill="#7a7a7a" text-anchor="middle" textLength="3.80" lengthAdjust="spacingAndGlyphs" style="mix-blend-mode:multiply">13</text>
<polygon points="441.05,203.98 447.40,212.36 441.05,220.74 434.70,212.36" fill="#ffffff" stroke="#cfcfcb" stroke-width="0.55"/>
<text x="441.05" y="214.01" font-size="4.5" fill="#7a7a7a" text-anchor="middle" textLength="1.90" lengthAdjust="spacingAndGlyphs" style="mix-blend-mode:multiply">8</text>
<polygon points="447.40,212.36 453.75,220.74 447.40,229.12 441.05,220.74" fill="#bfbff6" stroke="#cfcfcb" stroke-width="0.55"/>
<polygon points="453.75,220.74 460.10,229.12 453.75,237.50 447.40,229.12" fill="#ffffff" stroke="#cfcfcb" stroke-width="0.55"/>
<text x="453.75" y="230.77" font-size="4.5" fill="#7a7a7a" text-anchor="middle" textLength="1.90" lengthAdjust="spacingAndGlyphs" style="mix-blend-mode:multiply">5</text>
<polygon points="460.10,229.12 466.45,237.50 460.10,245.88 453.75,237.50" fill="#ffffff" stroke="#cfcfcb" stroke-width="0.55"/>
<text x="460.10" y="239.15" font-size="4.5" fill="#7a7a7a" text-anchor="middle" textLength="3.80" lengthAdjust="spacingAndGlyphs" style="mix-blend-mode:multiply">61</text>
<polygon points="466.45,237.50 472.80,245.88 466.45,254.26 460.10,245.88" fill="#ffffff" stroke="#cfcfcb" stroke-width="0.55"/>
<text x="466.45" y="247.53" font-size="4.5" fill="#7a7a7a" text-anchor="middle" textLength="3.80" lengthAdjust="spacingAndGlyphs" style="mix-blend-mode:multiply">26</text>
<polygon points="472.80,245.88 479.15,254.26 472.80,262.64 466.45,254.26" fill="#ffffff" stroke="#cfcfcb" stroke-width="0.55"/>
<text x="472.80" y="255.91" font-size="4.5" fill="#7a7a7a" text-anchor="middle" textLength="3.80" lengthAdjust="spacingAndGlyphs" style="mix-blend-mode:multiply">13</text>
<polygon points="479.15,254.26 485.50,262.64 479.15,271.02 472.80,262.64" fill="#ffffff" stroke="#cfcfcb" stroke-width="0.55"/>
<text x="479.15" y="264.29" font-size="4.5" fill="#7a7a7a" text-anchor="middle" textLength="3.80" lengthAdjust="spacingAndGlyphs" style="mix-blend-mode:multiply">36</text>
<polygon points="441.05,187.22 447.40,195.60 441.05,203.98 434.70,195.60" fill="#ff6262" stroke="#cfcfcb" stroke-width="0.55"/>
<text x="441.05" y="197.25" font-size="4.5" fill="#7a7a7a" text-anchor="middle" textLength="3.80" lengthAdjust="spacingAndGlyphs" style="mix-blend-mode:multiply">78</text>
<polygon points="447.40,195.60 453.75,203.98 447.40,212.36 441.05,203.98" fill="#ffffff" stroke="#cfcfcb" stroke-width="0.55"/>
<text x="447.40" y="205.63" font-size="4.6" font-weight="bold" fill="#222" text-anchor="middle" textLength="4.30" lengthAdjust="spacingAndGlyphs">58</text>
<polygon points="453.75,203.98 460.10,212.36 453.75,220.74 447.40,212.36" fill="#bfbff6" stroke="#cfcfcb" stroke-width="0.55"/>
<polygon points="460.10,212.36 466.45,220.74 460.10,229.12 453.75,220.74" fill="#ffffff" stroke="#cfcfcb" stroke-width="0.55"/>
<text x="460.10" y="222.39" font-size="4.6" font-weight="bold" fill="#222" text-anchor="middle" textLength="4.30" lengthAdjust="spacingAndGlyphs">58</text>
<polygon points="466.45,220.74 472.80,229.12 466.45,237.50 460.10,229.12" fill="#bfbff6" stroke="#cfcfcb" stroke-width="0.55"/>
<polygon points="472.80,229.12 479.15,237.50 472.80,245.88 466.45,237.50" fill="#ff8e8e" stroke="#cfcfcb" stroke-width="0.55"/>
<text x="472.80" y="239.15" font-size="4.5" fill="#7a7a7a" text-anchor="middle" textLength="3.80" lengthAdjust="spacingAndGlyphs" style="mix-blend-mode:multiply">68</text>
<polygon points="479.15,237.50 485.50,245.88 479.15,254.26 472.80,245.88" fill="#ff8585" stroke="#cfcfcb" stroke-width="0.55"/>
<text x="479.15" y="247.53" font-size="4.5" fill="#7a7a7a" text-anchor="middle" textLength="3.80" lengthAdjust="spacingAndGlyphs" style="mix-blend-mode:multiply">70</text>
<polygon points="485.50,245.88 491.85,254.26 485.50,262.64 479.15,254.26" fill="#ff8e8e" stroke="#cfcfcb" stroke-width="0.55"/>
<text x="485.50" y="255.91" font-size="4.5" fill="#7a7a7a" text-anchor="middle" textLength="3.80" lengthAdjust="spacingAndGlyphs" style="mix-blend-mode:multiply">68</text>
<polygon points="453.75,187.22 460.10,195.60 453.75,203.98 447.40,195.60" fill="#ff0000" stroke="#cfcfcb" stroke-width="0.55"/>
<polygon points="460.10,195.60 466.45,203.98 460.10,212.36 453.75,203.98" fill="#bfbff6" stroke="#cfcfcb" stroke-width="0.55"/>
<polygon points="466.45,203.98 472.80,212.36 466.45,220.74 460.10,212.36" fill="#ff0000" stroke="#cfcfcb" stroke-width="0.55"/>
<polygon points="472.80,212.36 479.15,220.74 472.80,229.12 466.45,220.74" fill="#ff0000" stroke="#cfcfcb" stroke-width="0.55"/>
<polygon points="479.15,220.74 485.50,229.12 479.15,237.50 472.80,229.12" fill="#ff0000" stroke="#cfcfcb" stroke-width="0.55"/>
<polygon points="485.50,229.12 491.85,237.50 485.50,245.88 479.15,237.50" fill="#ff0000" stroke="#cfcfcb" stroke-width="0.55"/>
<polygon points="491.85,237.50 498.20,245.88 491.85,254.26 485.50,245.88" fill="#ff0000" stroke="#cfcfcb" stroke-width="0.55"/>
<polygon points="466.45,187.22 472.80,195.60 466.45,203.98 460.10,195.60" fill="#bfbff6" stroke="#cfcfcb" stroke-width="0.55"/>
<polygon points="472.80,195.60 479.15,203.98 472.80,212.36 466.45,203.98" fill="#ff0000" stroke="#cfcfcb" stroke-width="0.55"/>
<polygon points="479.15,203.98 485.50,212.36 479.15,220.74 472.80,212.36" fill="#ff0000" stroke="#cfcfcb" stroke-width="0.55"/>
<polygon points="485.50,212.36 491.85,220.74 485.50,229.12 479.15,220.74" fill="#ff0000" stroke="#cfcfcb" stroke-width="0.55"/>
<polygon points="491.85,220.74 498.20,229.12 491.85,237.50 485.50,229.12" fill="#ff0000" stroke="#cfcfcb" stroke-width="0.55"/>
<polygon points="498.20,229.12 504.55,237.50 498.20,245.88 491.85,237.50" fill="#ff0000" stroke="#cfcfcb" stroke-width="0.55"/>
<polygon points="479.15,187.22 485.50,195.60 479.15,203.98 472.80,195.60" fill="#bfbff6" stroke="#cfcfcb" stroke-width="0.55"/>
<polygon points="485.50,195.60 491.85,203.98 485.50,212.36 479.15,203.98" fill="#bfbff6" stroke="#cfcfcb" stroke-width="0.55"/>
<polygon points="491.85,203.98 498.20,212.36 491.85,220.74 485.50,212.36" fill="#bfbff6" stroke="#cfcfcb" stroke-width="0.55"/>
<polygon points="498.20,212.36 504.55,220.74 498.20,229.12 491.85,220.74" fill="#bfbff6" stroke="#cfcfcb" stroke-width="0.55"/>
<polygon points="504.55,220.74 510.90,229.12 504.55,237.50 498.20,229.12" fill="#bfbff6" stroke="#cfcfcb" stroke-width="0.55"/>
<polygon points="491.85,187.22 498.20,195.60 491.85,203.98 485.50,195.60" fill="#ff0000" stroke="#cfcfcb" stroke-width="0.55"/>
<polygon points="498.20,195.60 504.55,203.98 498.20,212.36 491.85,203.98" fill="#ff0000" stroke="#cfcfcb" stroke-width="0.55"/>
<polygon points="504.55,203.98 510.90,212.36 504.55,220.74 498.20,212.36" fill="#ff0000" stroke="#cfcfcb" stroke-width="0.55"/>
<polygon points="510.90,212.36 517.25,220.74 510.90,229.12 504.55,220.74" fill="#ff0000" stroke="#cfcfcb" stroke-width="0.55"/>
<polygon points="504.55,187.22 510.90,195.60 504.55,203.98 498.20,195.60" fill="#bfbff6" stroke="#cfcfcb" stroke-width="0.55"/>
<polygon points="510.90,195.60 517.25,203.98 510.90,212.36 504.55,203.98" fill="#ff0000" stroke="#cfcfcb" stroke-width="0.55"/>
<polygon points="517.25,203.98 523.60,212.36 517.25,220.74 510.90,212.36" fill="#bfbff6" stroke="#cfcfcb" stroke-width="0.55"/>
<polygon points="517.25,187.22 523.60,195.60 517.25,203.98 510.90,195.60" fill="#ff0000" stroke="#cfcfcb" stroke-width="0.55"/>
<polygon points="523.60,195.60 529.95,203.98 523.60,212.36 517.25,203.98" fill="#ff0000" stroke="#cfcfcb" stroke-width="0.55"/>
<polygon points="529.95,187.22 536.30,195.60 529.95,203.98 523.60,195.60" fill="#ff0000" stroke="#cfcfcb" stroke-width="0.55"/>
<polyline points="377.55,187.22 377.55,175.00" fill="none" stroke="#3a3a3a" stroke-width="1.0"/>
<polyline points="415.65,187.22 415.65,175.00" fill="none" stroke="#3a3a3a" stroke-width="1.0"/>
<line x1="377.05" y1="175.50" x2="416.15" y2="175.50" stroke="#3a3a3a" stroke-width="1.0"/>
<polyline points="415.65,187.22 396.60,212.36 377.55,187.22" fill="none" stroke="#111" stroke-width="1.0" stroke-linejoin="miter"/>
<text x="378.55" y="181.50" font-size="2.9" fill="#444">Block 1 (5 kb)</text>
<polyline points="441.05,187.22 441.05,175.00" fill="none" stroke="#3a3a3a" stroke-width="1.0"/>
<polyline points="542.65,187.22 542.65,175.00" fill="none" stroke="#3a3a3a" stroke-width="1.0"/>
<line x1="440.55" y1="175.50" x2="468.40" y2="175.50" stroke="#3a3a3a" stroke-width="1.0"/>
<line x1="468.40" y1="175.50" x2="478.80" y2="175.50" stroke="#3a3a3a" stroke-width="1.0" stroke-dasharray="1.1,0.9"/>
<line x1="478.80" y1="175.50" x2="543.15" y2="175.50" stroke="#3a3a3a" stroke-width="1.0"/>
<polyline points="542.65,187.22 491.85,254.26 441.05,187.22" fill="none" stroke="#111" stroke-width="1.0" stroke-linejoin="miter"/>
<text x="442.05" y="181.50" font-size="2.9" fill="#444">Block 2 (7 kb)</text>
</svg></body></html>
